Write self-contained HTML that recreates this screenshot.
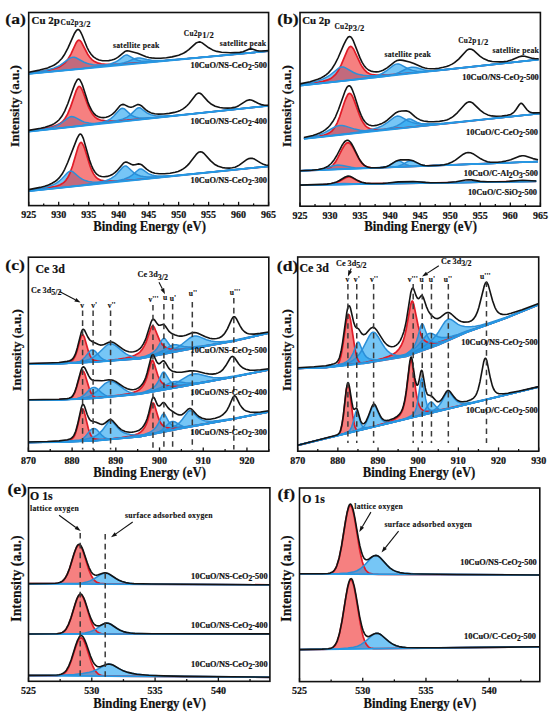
<!DOCTYPE html>
<html><head><meta charset="utf-8"><style>
html,body{margin:0;padding:0;background:#fff;width:550px;height:716px;overflow:hidden}
svg{display:block}
text{stroke:#111;stroke-width:0.2px}
</style></head><body>
<svg width="550" height="716" viewBox="0 0 550 716" font-family='"Liberation Serif", serif' font-weight="bold" fill="#111">
<polygon points="28.7,73.0 37.2,71.8 43.9,70.7 49.2,69.4 53.8,68.1 57.0,66.8 59.9,65.3 63.1,63.2 69.3,58.6 71.1,57.6 72.7,57.2 74.3,57.3 75.9,57.8 84.2,62.2 86.9,63.3 89.8,64.1 93.3,64.7 97.5,65.1 108.0,65.1 123.7,64.2 148.8,62.2 268.6,51.1 268.6,51.1 28.7,73.8" fill="#1aa0f0" fill-opacity="0.60"/>
<polygon points="28.7,73.2 41.8,71.4 50.8,69.6 57.3,67.7 59.7,66.7 61.8,65.4 65.0,62.8 67.9,59.2 70.9,54.1 76.2,42.7 77.5,40.8 78.3,40.3 78.9,40.1 79.9,40.5 81.3,42.0 87.7,54.2 89.8,57.3 91.9,59.6 94.6,61.6 97.5,62.9 101.3,63.8 105.8,64.3 111.7,64.4 119.4,64.2 142.4,62.6 183.7,59.0 268.6,51.1 268.6,51.1 28.7,73.8" fill="#f03232" fill-opacity="0.62"/>
<polygon points="28.7,73.8 82.9,68.4 95.9,66.8 104.5,65.4 110.4,64.0 114.9,62.3 118.4,60.3 124.0,55.9 125.0,55.4 126.1,55.1 127.2,55.1 128.5,55.6 134.4,59.0 138.4,60.4 141.0,60.9 144.0,61.2 151.5,61.3 162.7,60.7 180.8,59.2 268.6,51.1 268.6,51.1 28.7,73.8" fill="#1aa0f0" fill-opacity="0.60"/>
<polygon points="28.7,73.8 87.9,68.0 112.2,65.2 118.9,64.0 124.2,62.8 128.2,61.4 134.6,58.6 137.6,57.9 140.2,58.0 146.9,59.6 151.5,60.3 157.1,60.5 164.8,60.3 193.3,58.1 268.6,51.1 268.6,51.1 28.7,73.8" fill="#1aa0f0" fill-opacity="0.60"/>
<polyline points="28.7,73.2 41.8,71.4 50.8,69.6 57.3,67.7 59.7,66.7 61.8,65.4 65.0,62.8 67.9,59.2 70.9,54.1 76.2,42.7 77.5,40.8 78.3,40.3 78.9,40.1 79.9,40.5 81.3,42.0 87.7,54.2 89.8,57.3 91.9,59.6 94.6,61.6 97.5,62.9 101.3,63.8 105.8,64.3 111.7,64.4 119.4,64.2 142.4,62.6 183.7,59.0 268.6,51.1" fill="none" stroke="#e01c28" stroke-width="1.7"/>
<polyline points="28.7,73.0 37.2,71.8 43.9,70.7 49.2,69.4 53.8,68.1 57.0,66.8 59.9,65.3 63.1,63.2 69.3,58.6 71.1,57.6 72.7,57.2 74.3,57.3 75.9,57.8 84.2,62.2 86.9,63.3 89.8,64.1 93.3,64.7 97.5,65.1 108.0,65.1 123.7,64.2 148.8,62.2 268.6,51.1" fill="none" stroke="#2b8fd8" stroke-width="1.5"/>
<polyline points="28.7,73.8 82.9,68.4 95.9,66.8 104.5,65.4 110.4,64.0 114.9,62.3 118.4,60.3 124.0,55.9 125.0,55.4 126.1,55.1 127.2,55.1 128.5,55.6 134.4,59.0 138.4,60.4 141.0,60.9 144.0,61.2 151.5,61.3 162.7,60.7 180.8,59.2 268.6,51.1" fill="none" stroke="#2b8fd8" stroke-width="1.5"/>
<polyline points="28.7,73.8 87.9,68.0 112.2,65.2 118.9,64.0 124.2,62.8 128.2,61.4 134.6,58.6 137.6,57.9 140.2,58.0 146.9,59.6 151.5,60.3 157.1,60.5 164.8,60.3 193.3,58.1 268.6,51.1" fill="none" stroke="#2b8fd8" stroke-width="1.5"/>
<polyline points="28.7,73.8 268.6,51.1" fill="none" stroke="#2598e4" stroke-width="1.7"/>
<polyline points="28.7,72.2 39.6,70.1 47.6,67.9 50.8,66.6 53.8,65.2 56.2,63.7 58.6,61.8 61.8,58.5 64.7,54.2 67.9,48.2 74.6,33.2 76.2,30.7 77.0,29.9 77.8,29.5 78.6,29.6 79.1,29.9 79.9,30.8 80.7,32.1 82.1,35.0 87.1,47.5 89.0,51.1 91.1,54.3 93.5,56.9 96.2,58.7 99.1,60.0 102.6,60.7 105.6,60.8 108.8,60.6 111.7,60.0 114.4,59.2 116.5,58.1 118.4,56.9 124.5,51.8 125.8,51.1 127.2,50.8 129.0,51.0 137.6,53.2 146.1,56.7 148.8,57.5 151.5,57.9 155.7,58.3 160.8,58.2 166.4,57.8 172.0,56.9 178.7,55.2 181.6,54.1 184.3,52.7 186.7,51.2 188.8,49.6 195.7,43.3 197.4,42.4 199.0,41.9 200.6,42.1 202.2,42.9 208.8,47.8 212.6,49.9 216.8,51.4 221.6,52.3 230.2,52.7 239.8,52.4 243.0,51.8 248.3,49.4 250.5,48.9 252.3,49.1 256.6,50.5 259.0,51.0 262.2,51.0 268.6,50.6" fill="none" stroke="#141414" stroke-width="1.60" stroke-linejoin="round"/>
<polygon points="28.7,131.3 45.2,129.0 50.0,128.0 53.8,126.9 56.5,125.9 59.1,124.5 62.1,122.5 68.2,117.8 69.8,117.0 71.4,116.6 73.0,116.7 74.6,117.2 81.5,120.9 85.8,122.5 88.2,123.0 90.9,123.3 97.3,123.4 108.5,122.6 127.4,120.8 219.5,111.1 219.5,111.1 28.7,131.7" fill="#1aa0f0" fill-opacity="0.60"/>
<polygon points="28.7,130.9 42.3,128.8 51.6,126.9 54.9,125.9 57.5,124.8 59.9,123.5 61.8,122.1 63.4,120.5 65.0,118.5 67.7,113.9 70.6,106.9 76.2,90.6 77.8,87.5 78.6,86.7 79.1,86.4 79.7,86.5 80.5,87.0 81.8,89.1 83.1,92.2 86.9,102.6 88.7,107.3 90.6,111.2 92.7,114.6 95.1,117.2 97.5,118.9 100.5,120.0 104.5,120.7 109.8,121.0 117.3,120.8 127.2,120.2 140.2,119.1 181.6,115.0 268.6,105.7 268.6,105.8 28.7,131.7" fill="#f03232" fill-opacity="0.62"/>
<polygon points="28.7,131.6 82.3,125.5 94.6,123.8 102.4,122.2 107.2,120.7 110.9,118.6 114.1,115.8 119.7,109.6 121.0,108.6 122.1,108.3 123.2,108.4 124.5,109.0 130.4,114.3 132.2,115.6 134.1,116.5 136.2,117.2 138.6,117.7 141.6,118.0 145.0,118.0 156.0,117.4 174.1,115.7 268.6,105.8 268.6,105.8 28.7,131.7" fill="#1aa0f0" fill-opacity="0.60"/>
<polygon points="28.7,131.6 92.7,124.4 107.2,122.5 116.5,120.8 122.6,119.1 127.2,117.1 130.9,114.4 136.5,108.8 137.8,108.0 138.9,107.7 140.0,107.8 141.0,108.3 146.9,112.8 148.8,113.8 150.7,114.6 153.1,115.3 155.7,115.7 162.7,116.0 173.1,115.5 189.9,114.0 268.6,105.8 268.6,105.8 28.7,131.7" fill="#1aa0f0" fill-opacity="0.60"/>
<polyline points="28.7,130.9 42.3,128.8 51.6,126.9 54.9,125.9 57.5,124.8 59.9,123.5 61.8,122.1 63.4,120.5 65.0,118.5 67.7,113.9 70.6,106.9 76.2,90.6 77.8,87.5 78.6,86.7 79.1,86.4 79.7,86.5 80.5,87.0 81.8,89.1 83.1,92.2 86.9,102.6 88.7,107.3 90.6,111.2 92.7,114.6 95.1,117.2 97.5,118.9 100.5,120.0 104.5,120.7 109.8,121.0 117.3,120.8 127.2,120.2 140.2,119.1 181.6,115.0 268.6,105.7" fill="none" stroke="#e01c28" stroke-width="1.7"/>
<polyline points="28.7,131.3 45.2,129.0 50.0,128.0 53.8,126.9 56.5,125.9 59.1,124.5 62.1,122.5 68.2,117.8 69.8,117.0 71.4,116.6 73.0,116.7 74.6,117.2 81.8,121.0 83.9,121.9 86.3,122.6 89.0,123.1 91.9,123.4 99.4,123.3 113.3,122.2 137.3,119.8 268.6,105.8" fill="none" stroke="#2b8fd8" stroke-width="1.5"/>
<polyline points="28.7,131.6 82.3,125.5 94.6,123.8 102.4,122.2 107.2,120.7 110.9,118.6 114.1,115.8 119.7,109.6 121.0,108.6 122.1,108.3 123.2,108.4 124.5,109.0 130.4,114.3 132.2,115.6 134.1,116.5 136.2,117.2 138.6,117.7 141.6,118.0 145.0,118.0 156.0,117.4 174.1,115.7 268.6,105.8" fill="none" stroke="#2b8fd8" stroke-width="1.5"/>
<polyline points="28.7,131.6 92.7,124.4 107.2,122.5 116.5,120.8 122.6,119.1 127.2,117.1 130.9,114.4 136.5,108.8 137.8,108.0 138.9,107.7 140.0,107.8 141.0,108.3 146.9,112.8 148.8,113.8 150.7,114.6 153.1,115.3 155.7,115.7 162.7,116.0 173.1,115.5 189.9,114.0 268.6,105.8" fill="none" stroke="#2b8fd8" stroke-width="1.5"/>
<polyline points="28.7,131.7 268.6,105.8" fill="none" stroke="#2598e4" stroke-width="1.7"/>
<polyline points="28.7,130.4 40.7,128.2 45.0,127.2 48.7,126.1 51.6,125.0 54.3,123.6 56.7,121.9 58.9,120.0 61.8,116.3 64.7,111.1 67.9,103.5 73.3,88.3 75.1,83.6 77.0,80.1 77.8,79.3 78.6,79.1 79.1,79.2 79.9,79.9 81.5,82.8 82.9,86.4 87.9,102.1 89.8,106.7 91.7,110.4 93.8,113.4 95.9,115.4 98.3,116.8 101.0,117.5 103.4,117.6 106.1,117.3 108.5,116.5 110.6,115.4 112.5,114.1 114.4,112.4 120.2,105.6 121.6,104.7 122.6,104.4 124.2,104.6 128.5,106.7 130.6,107.2 131.7,107.1 133.0,106.7 137.3,104.6 138.4,104.5 139.4,104.7 141.3,105.7 145.6,109.6 148.2,111.5 151.2,112.9 154.7,113.8 158.7,114.1 163.7,114.0 169.3,113.4 174.4,112.4 177.6,111.4 180.3,110.4 182.7,109.1 185.1,107.4 187.2,105.5 189.1,103.5 195.7,94.9 197.4,93.5 198.7,93.1 200.0,93.3 201.6,94.3 208.0,101.4 211.5,104.3 215.2,106.3 219.8,107.5 223.5,108.0 227.8,108.1 231.5,107.9 234.4,107.4 236.6,106.7 238.7,105.7 246.2,100.8 247.8,100.2 249.4,99.9 251.0,100.0 252.6,100.5 258.5,103.5 261.4,104.6 264.6,105.2 268.6,105.2" fill="none" stroke="#141414" stroke-width="1.60" stroke-linejoin="round"/>
<polygon points="28.7,190.4 37.2,189.1 43.9,187.7 49.2,186.3 53.5,184.6 56.5,183.1 59.1,181.2 62.1,178.5 67.4,172.7 69.0,171.6 70.3,171.1 71.7,171.2 73.0,171.9 80.2,178.0 82.6,179.4 85.3,180.6 88.5,181.4 92.2,182.0 96.7,182.2 102.1,182.2 117.0,181.4 141.8,179.2 268.6,166.3 268.6,166.3 28.7,191.2" fill="#1aa0f0" fill-opacity="0.60"/>
<polygon points="28.7,190.7 44.2,188.6 54.3,186.7 57.5,185.8 60.2,184.8 62.3,183.6 64.2,182.2 65.8,180.5 67.1,178.6 68.5,176.3 69.8,173.4 72.5,166.0 78.1,147.0 79.7,143.5 80.5,142.7 81.0,142.5 81.5,142.6 82.3,143.4 83.7,146.0 85.0,149.7 90.1,166.1 91.9,170.7 93.5,173.9 95.7,176.9 97.8,178.8 100.5,180.1 104.0,180.9 108.8,181.2 115.7,181.1 125.0,180.5 137.8,179.5 178.9,175.5 268.6,166.3 268.6,166.3 28.7,191.2" fill="#f03232" fill-opacity="0.62"/>
<polygon points="28.7,191.1 61.5,187.5 81.3,185.2 94.1,183.3 102.6,181.5 105.8,180.6 108.8,179.5 111.2,178.3 113.3,177.0 115.2,175.6 117.0,173.8 122.6,167.4 124.0,166.4 125.0,166.0 126.1,166.1 127.4,166.8 133.6,172.5 135.7,174.0 137.8,175.0 140.5,175.9 143.4,176.5 146.9,176.9 151.2,177.0 162.7,176.5 181.1,175.1 268.6,166.3 268.6,166.3 28.7,191.2" fill="#1aa0f0" fill-opacity="0.60"/>
<polygon points="28.7,191.2 93.5,184.2 108.2,182.3 117.6,180.8 124.0,179.2 128.8,177.3 132.5,174.9 138.1,170.0 139.2,169.3 140.2,169.0 141.3,169.1 142.4,169.5 148.0,173.3 149.9,174.3 152.0,175.0 154.4,175.6 157.1,175.9 164.0,176.1 174.4,175.5 190.9,174.1 268.6,166.3 268.6,166.3 28.7,191.2" fill="#1aa0f0" fill-opacity="0.60"/>
<polyline points="28.7,190.7 44.2,188.6 54.3,186.7 57.5,185.8 60.2,184.8 62.3,183.6 64.2,182.2 65.8,180.5 67.1,178.6 68.5,176.3 69.8,173.4 72.5,166.0 78.1,147.0 79.7,143.5 80.5,142.7 81.0,142.5 81.5,142.6 82.3,143.4 83.7,146.0 85.0,149.7 90.1,166.1 91.9,170.7 93.5,173.9 95.7,176.9 97.8,178.8 100.5,180.1 104.0,180.9 108.8,181.2 115.7,181.1 125.0,180.5 137.8,179.5 178.9,175.5 268.6,166.3" fill="none" stroke="#e01c28" stroke-width="1.7"/>
<polyline points="28.7,190.4 37.2,189.1 43.9,187.7 49.2,186.3 53.5,184.6 56.5,183.1 59.1,181.2 62.1,178.5 67.4,172.7 69.0,171.6 70.3,171.1 71.7,171.2 73.0,171.9 80.2,178.0 82.6,179.4 85.3,180.6 88.5,181.4 92.2,182.0 96.7,182.2 102.1,182.2 117.0,181.4 141.8,179.2 268.6,166.3" fill="none" stroke="#2b8fd8" stroke-width="1.5"/>
<polyline points="28.7,191.1 61.5,187.5 81.3,185.2 94.1,183.3 102.6,181.5 105.8,180.6 108.8,179.5 111.2,178.3 113.3,177.0 115.2,175.6 117.0,173.8 122.6,167.4 124.0,166.4 125.0,166.0 126.1,166.1 127.4,166.8 133.6,172.5 135.7,174.0 137.8,175.0 140.5,175.9 143.4,176.5 146.9,176.9 151.2,177.0 162.7,176.5 181.1,175.1 268.6,166.3" fill="none" stroke="#2b8fd8" stroke-width="1.5"/>
<polyline points="28.7,191.2 93.5,184.2 108.2,182.3 117.6,180.8 124.0,179.2 128.8,177.3 132.5,174.9 138.1,170.0 139.2,169.3 140.2,169.0 141.3,169.1 142.4,169.5 148.0,173.3 149.9,174.3 152.0,175.0 154.4,175.6 157.1,175.9 164.0,176.1 174.4,175.5 190.9,174.1 268.6,166.3" fill="none" stroke="#2b8fd8" stroke-width="1.5"/>
<polyline points="28.7,191.2 268.6,166.3" fill="none" stroke="#2598e4" stroke-width="1.7"/>
<polyline points="28.7,189.6 40.2,187.4 44.7,186.2 48.4,184.9 51.6,183.5 54.6,181.8 57.0,180.0 59.1,177.9 62.1,174.1 64.7,169.3 67.7,162.5 77.0,138.6 78.9,135.1 79.7,134.3 80.2,134.1 81.0,134.3 81.8,135.2 83.4,138.6 89.5,160.0 91.4,165.3 93.0,168.9 94.9,172.0 96.7,174.2 98.9,175.7 101.6,176.5 104.2,176.7 107.2,176.4 110.1,175.5 112.8,174.2 114.9,172.7 116.8,170.9 123.2,163.4 124.5,162.4 125.8,162.0 127.4,162.4 131.2,164.3 133.0,164.9 134.9,164.8 138.6,163.9 140.5,164.2 142.4,165.3 146.6,169.2 149.1,170.9 151.7,172.3 154.9,173.2 159.2,173.7 164.5,173.8 170.1,173.3 175.2,172.3 178.1,171.4 180.8,170.3 183.2,168.9 185.3,167.4 187.5,165.4 189.6,163.1 196.8,153.8 198.7,152.2 200.3,151.7 201.9,152.0 203.8,153.2 210.7,160.9 214.4,164.2 218.2,166.3 222.4,167.6 225.6,168.0 229.1,168.1 232.3,167.8 235.0,167.2 237.1,166.3 239.2,165.1 247.0,159.4 248.9,158.6 250.7,158.2 252.6,158.4 254.5,159.1 260.6,162.9 263.3,164.2 265.9,165.0 268.6,165.3" fill="none" stroke="#141414" stroke-width="1.60" stroke-linejoin="round"/>
<polygon points="300.0,84.6 307.4,83.3 313.5,82.0 318.6,80.6 322.8,79.0 326.3,77.4 329.5,75.5 338.7,68.1 340.3,67.3 341.9,66.9 343.5,67.0 345.1,67.6 353.6,72.5 356.5,73.7 359.5,74.6 363.2,75.3 367.1,75.7 372.2,75.8 378.0,75.7 394.0,74.7 419.2,72.3 538.6,59.5 538.6,59.6 300.0,85.7" fill="#1aa0f0" fill-opacity="0.60"/>
<polygon points="300.0,85.1 313.8,83.1 322.8,81.3 328.4,79.6 330.8,78.4 332.6,77.2 335.6,74.4 338.5,70.2 341.4,64.4 347.5,49.9 349.1,47.4 349.9,46.8 350.7,46.5 351.2,46.6 352.0,47.1 353.6,49.2 360.5,63.9 362.4,67.1 364.5,70.0 366.9,72.2 369.5,73.8 372.5,74.7 376.2,75.1 381.5,75.2 388.9,74.9 411.7,73.0 452.9,68.8 538.6,59.5 538.6,59.6 300.0,85.7" fill="#f03232" fill-opacity="0.62"/>
<polygon points="300.0,85.6 354.4,79.4 366.9,77.8 373.8,76.5 378.3,75.3 382.3,73.5 386.3,71.0 393.4,65.4 395.3,64.4 397.1,63.9 398.7,64.0 400.6,64.6 408.0,68.7 412.0,70.4 416.5,71.3 422.4,71.4 431.9,70.8 450.0,69.1 536.7,59.7 536.7,59.8 300.0,85.7" fill="#1aa0f0" fill-opacity="0.60"/>
<polygon points="382.5,76.6 389.4,75.6 394.5,74.3 398.7,72.6 407.0,68.5 409.3,67.6 411.5,67.2 413.6,67.2 416.0,67.5 424.2,69.9 428.5,70.6 433.5,70.8 440.4,70.3 440.4,70.3 382.5,76.7" fill="#1aa0f0" fill-opacity="0.60"/>
<polyline points="300.0,85.1 313.8,83.1 322.8,81.3 328.4,79.6 330.8,78.4 332.6,77.2 335.6,74.4 338.5,70.2 341.4,64.4 347.5,49.9 349.1,47.4 349.9,46.8 350.7,46.5 351.2,46.6 352.0,47.1 353.6,49.2 360.5,63.9 362.4,67.1 364.5,70.0 366.9,72.2 369.5,73.8 372.5,74.7 376.2,75.1 381.5,75.2 388.9,74.9 411.7,73.0 452.9,68.8 538.6,59.5" fill="none" stroke="#e01c28" stroke-width="1.7"/>
<polyline points="300.0,84.6 307.4,83.3 313.5,82.0 318.6,80.6 322.8,79.0 326.3,77.4 329.5,75.5 338.7,68.1 340.3,67.3 341.9,66.9 343.5,67.0 345.1,67.6 353.6,72.5 356.5,73.7 359.5,74.6 363.2,75.3 367.1,75.7 372.2,75.8 378.0,75.7 394.0,74.7 419.2,72.3 538.6,59.5" fill="none" stroke="#2b8fd8" stroke-width="1.5"/>
<polyline points="300.0,85.6 354.4,79.4 366.9,77.8 373.8,76.5 378.3,75.3 382.3,73.5 386.3,71.0 393.4,65.4 395.3,64.4 397.1,63.9 398.7,64.0 400.6,64.6 408.0,68.7 412.3,70.4 416.8,71.3 422.6,71.4 432.4,70.8 450.7,69.0 538.6,59.5" fill="none" stroke="#2b8fd8" stroke-width="1.5"/>
<polyline points="300.0,85.7 377.8,77.2 387.8,75.9 392.1,75.0 395.5,74.0 399.0,72.5 407.0,68.5 409.3,67.6 411.5,67.2 413.6,67.2 416.0,67.5 423.9,69.8 427.4,70.5 431.1,70.8 435.6,70.7 446.0,69.7 538.6,59.6" fill="none" stroke="#2b8fd8" stroke-width="1.5"/>
<polyline points="300.0,85.7 538.6,59.6" fill="none" stroke="#2598e4" stroke-width="1.7"/>
<polyline points="300.0,83.9 310.1,81.7 317.8,79.3 321.0,77.9 323.6,76.5 326.0,74.9 328.4,72.9 331.8,69.0 335.0,63.9 338.0,58.0 343.8,44.6 346.2,39.9 348.0,37.3 348.8,36.8 349.6,36.5 350.4,36.7 351.2,37.3 352.0,38.4 353.1,40.3 360.0,57.9 362.1,62.4 364.0,65.4 366.1,68.0 368.5,70.0 370.9,71.1 373.8,71.8 376.2,71.9 378.6,71.7 380.9,71.1 383.1,70.3 387.1,67.9 395.0,61.6 397.1,60.5 399.3,60.1 400.9,60.1 403.0,60.4 409.6,62.0 413.9,63.5 422.4,67.2 425.0,68.0 427.4,68.5 430.6,68.8 434.3,68.7 438.8,68.2 443.3,67.3 446.5,66.5 449.4,65.4 452.1,64.1 454.5,62.6 458.7,59.1 466.4,50.7 468.3,49.4 469.9,49.0 471.5,49.2 473.3,50.2 480.2,56.3 483.9,58.8 487.9,60.6 492.2,61.5 495.6,61.8 499.6,61.9 503.8,61.6 507.3,61.2 512.1,59.8 519.2,56.7 521.9,56.1 524.8,56.3 532.8,58.4 535.4,58.7 538.6,58.7" fill="none" stroke="#141414" stroke-width="1.60" stroke-linejoin="round"/>
<polygon points="303.9,138.3 312.6,136.7 319.2,134.9 325.0,132.4 335.2,126.8 337.6,126.0 339.9,125.5 342.3,125.5 344.7,125.9 354.7,129.1 359.9,130.3 365.7,130.9 372.6,130.8 383.6,129.9 404.9,127.9 504.9,117.3 504.9,117.3 303.9,138.9" fill="#1aa0f0" fill-opacity="0.60"/>
<polygon points="303.9,138.4 316.8,136.5 324.2,135.0 326.5,134.2 328.6,133.3 330.5,132.1 332.1,130.8 334.7,127.5 337.1,123.1 339.7,116.6 344.4,102.3 346.0,98.1 347.8,94.6 348.6,93.8 349.4,93.4 350.2,93.6 351.0,94.2 351.8,95.3 352.8,97.2 354.4,101.1 359.7,115.7 361.5,119.9 363.4,123.1 365.5,125.8 367.6,127.6 370.2,128.8 373.4,129.5 377.6,129.6 384.1,129.4 406.8,127.5 448.6,123.3 540.4,113.5 540.4,113.5 303.9,138.9" fill="#f03232" fill-opacity="0.62"/>
<polygon points="303.9,138.7 331.5,135.5 349.7,133.3 362.3,131.4 371.3,129.6 377.6,127.7 382.6,125.6 386.8,123.0 394.1,117.4 395.7,116.6 397.3,116.1 398.9,116.2 400.5,116.6 408.3,121.0 410.7,121.9 413.3,122.7 416.5,123.4 419.9,123.8 428.3,124.0 440.7,123.4 459.6,121.8 540.4,113.4 540.4,113.5 303.9,138.9" fill="#1aa0f0" fill-opacity="0.60"/>
<polygon points="303.9,138.8 362.8,132.3 376.5,130.5 385.7,129.0 392.0,127.6 396.8,125.9 400.5,123.9 406.2,119.8 407.6,119.1 408.6,118.9 409.7,118.9 411.0,119.3 416.8,122.2 420.7,123.5 426.2,124.1 433.6,124.1 444.4,123.4 461.5,121.8 540.4,113.5 540.4,113.5 303.9,138.9" fill="#1aa0f0" fill-opacity="0.60"/>
<polyline points="303.9,138.4 316.8,136.5 324.2,135.0 326.5,134.2 328.6,133.3 330.5,132.1 332.1,130.8 334.7,127.5 337.1,123.1 339.7,116.6 344.4,102.3 346.0,98.1 347.8,94.6 348.6,93.8 349.4,93.4 350.2,93.6 351.0,94.2 351.8,95.3 352.8,97.2 354.4,101.1 359.7,115.7 361.5,119.9 363.4,123.1 365.5,125.8 367.6,127.6 370.2,128.8 373.4,129.5 377.6,129.6 384.1,129.4 406.8,127.5 448.6,123.3 540.4,113.5" fill="none" stroke="#e01c28" stroke-width="1.7"/>
<polyline points="303.9,138.3 312.6,136.7 319.2,134.9 325.0,132.4 335.2,126.8 337.6,126.0 339.9,125.5 342.3,125.5 344.7,125.9 354.7,129.1 360.2,130.3 366.3,130.9 374.1,130.7 387.6,129.6 413.1,127.0 540.4,113.5" fill="none" stroke="#2b8fd8" stroke-width="1.5"/>
<polyline points="303.9,138.7 331.5,135.5 349.7,133.3 362.3,131.4 371.3,129.6 377.6,127.7 382.6,125.6 386.8,123.0 394.1,117.4 395.7,116.6 397.3,116.1 398.9,116.2 400.5,116.6 408.3,121.0 410.7,121.9 413.3,122.7 416.5,123.4 419.9,123.8 428.3,124.0 440.7,123.4 459.6,121.8 540.4,113.4" fill="none" stroke="#2b8fd8" stroke-width="1.5"/>
<polyline points="303.9,138.8 362.8,132.3 376.5,130.5 385.7,129.0 392.0,127.6 396.8,125.9 400.5,123.9 406.2,119.8 407.6,119.1 408.6,118.9 409.7,118.9 411.0,119.3 416.8,122.2 420.7,123.5 426.2,124.1 433.6,124.1 444.4,123.4 461.5,121.8 540.4,113.5" fill="none" stroke="#2b8fd8" stroke-width="1.5"/>
<polyline points="303.9,138.9 540.4,113.5" fill="none" stroke="#2598e4" stroke-width="1.7"/>
<polyline points="303.9,137.5 312.9,135.5 316.5,134.3 319.7,133.0 322.8,131.4 325.5,129.6 327.8,127.7 329.9,125.5 332.8,121.6 335.5,116.8 338.6,109.3 345.2,90.8 347.0,87.2 348.1,86.1 348.9,85.7 349.7,85.9 350.5,86.5 351.3,87.7 352.3,89.8 354.2,94.7 359.4,110.9 361.3,115.5 362.8,118.7 364.7,121.5 366.8,123.7 368.9,124.9 371.3,125.6 373.6,125.7 376.2,125.4 379.1,124.6 382.0,123.4 384.7,122.0 387.0,120.4 393.9,114.3 396.0,112.7 398.6,111.5 401.8,111.0 406.2,110.9 408.6,111.5 410.4,112.7 414.9,116.7 417.3,118.4 420.2,119.9 423.6,121.0 428.1,121.6 433.6,121.8 439.4,121.4 444.4,120.5 446.7,119.9 449.1,118.9 451.2,117.8 453.3,116.4 457.3,112.8 465.2,104.0 467.3,102.4 469.1,101.8 471.0,102.1 473.1,103.3 480.4,110.3 484.1,113.1 487.8,114.9 491.7,115.9 496.2,116.2 501.7,116.0 507.3,115.3 510.7,114.4 512.5,113.3 514.1,112.0 515.9,109.7 519.4,104.5 520.4,103.6 521.2,103.3 522.0,103.6 522.8,104.3 527.2,110.0 528.6,111.2 529.9,112.0 531.5,112.5 533.6,112.9 540.4,112.7" fill="none" stroke="#141414" stroke-width="1.60" stroke-linejoin="round"/>
<polygon points="307.7,170.5 314.6,170.0 319.6,169.3 324.1,168.4 333.1,165.8 337.9,165.1 342.6,165.4 351.6,167.3 356.1,167.9 361.2,168.2 368.0,168.1 368.0,168.2 307.7,170.5" fill="#1aa0f0" fill-opacity="0.60"/>
<polygon points="319.1,170.0 323.8,169.6 327.3,168.9 329.9,167.7 332.3,165.9 334.2,163.8 336.3,160.6 342.1,149.2 343.9,146.0 345.0,144.6 346.1,143.5 347.1,142.9 347.9,142.8 348.7,142.9 349.8,143.4 351.6,145.4 353.5,148.4 359.6,159.8 361.4,162.5 363.5,164.7 365.9,166.4 368.6,167.3 372.0,167.8 376.8,167.8 376.8,167.8 319.1,170.1" fill="#f03232" fill-opacity="0.62"/>
<polygon points="379.2,167.7 383.7,167.3 386.8,166.5 389.7,165.2 395.0,161.9 396.6,161.3 398.0,161.0 399.3,161.1 400.9,161.6 406.4,164.6 409.3,165.7 412.5,166.2 417.0,166.3 417.0,166.3 379.2,167.7" fill="#1aa0f0" fill-opacity="0.60"/>
<polygon points="390.8,167.3 395.6,166.8 399.0,166.0 401.9,164.8 407.5,161.6 409.1,161.0 410.7,160.8 412.2,160.9 413.8,161.3 419.7,164.2 422.6,165.2 426.0,165.7 430.5,165.7 430.5,165.8 390.8,167.3" fill="#1aa0f0" fill-opacity="0.60"/>
<polyline points="300.0,170.8 322.8,169.8 326.7,169.1 329.9,167.7 331.5,166.6 332.8,165.3 335.5,161.9 337.9,157.7 342.4,148.7 344.5,145.2 346.3,143.3 347.1,142.9 347.9,142.8 348.7,142.9 349.8,143.4 350.8,144.4 351.9,145.8 353.7,148.9 359.0,159.0 360.6,161.4 362.2,163.4 364.1,165.2 365.9,166.4 368.0,167.2 370.7,167.7 374.4,167.8 380.7,167.7 538.0,161.6" fill="none" stroke="#e01c28" stroke-width="1.7"/>
<polyline points="300.0,170.8 311.6,170.2 318.3,169.6 323.6,168.5 333.4,165.7 337.9,165.1 342.6,165.4 351.4,167.2 355.3,167.9 359.8,168.2 365.4,168.2 538.0,161.6" fill="none" stroke="#2b8fd8" stroke-width="1.5"/>
<polyline points="300.0,170.8 381.8,167.5 385.0,167.0 387.6,166.2 390.0,165.0 395.0,161.9 396.6,161.3 398.0,161.0 399.3,161.1 400.9,161.6 406.4,164.6 408.8,165.5 411.7,166.1 415.2,166.3 538.0,161.6" fill="none" stroke="#2b8fd8" stroke-width="1.5"/>
<polyline points="300.0,170.8 393.5,167.1 396.9,166.6 399.5,165.8 402.2,164.6 407.5,161.6 409.1,161.0 410.7,160.8 412.2,160.9 413.8,161.3 419.4,164.1 422.0,165.0 425.0,165.6 428.4,165.8 538.0,161.6" fill="none" stroke="#2b8fd8" stroke-width="1.5"/>
<polyline points="300.0,170.8 538.0,161.6" fill="none" stroke="#2598e4" stroke-width="1.7"/>
<polyline points="300.0,170.8 311.9,170.2 318.5,169.5 323.8,168.2 325.9,167.3 328.1,166.1 331.2,163.5 334.4,159.4 336.8,155.5 341.8,145.8 343.7,142.9 345.5,140.9 347.1,140.2 348.2,140.4 349.2,141.0 350.3,142.0 351.4,143.5 353.2,146.7 358.8,158.1 360.6,161.1 362.2,163.2 364.1,165.1 366.2,166.4 368.3,167.2 370.9,167.7 374.4,167.8 379.4,167.7 382.9,167.4 385.5,166.9 387.4,166.3 389.2,165.4 396.4,160.9 398.5,160.2 400.6,159.9 408.8,159.9 411.2,160.2 413.8,161.1 420.5,164.4 422.6,165.1 425.0,165.5 428.4,165.7 433.4,165.5 439.8,165.2 444.0,164.7 448.0,163.8 451.7,162.3 455.4,160.1 463.3,154.2 465.7,153.0 468.1,152.5 470.5,152.8 472.9,153.7 480.8,158.8 484.3,160.6 487.4,161.7 490.6,162.2 493.8,162.3 497.5,162.2 501.7,161.8 505.7,161.1 510.7,159.8 518.9,156.4 522.1,155.7 523.7,155.7 525.3,156.0 533.0,158.6 538.0,159.7" fill="none" stroke="#141414" stroke-width="1.60" stroke-linejoin="round"/>
<polygon points="311.8,185.0 326.5,184.6 343.6,183.6 360.4,184.0 375.4,183.9 375.4,183.9 311.8,185.0" fill="#1aa0f0" fill-opacity="0.60"/>
<polygon points="300.0,185.1 323.1,184.5 328.4,184.2 332.1,183.7 334.7,183.1 337.3,182.3 339.9,181.0 345.7,177.7 347.3,177.1 348.6,176.9 350.2,177.1 351.8,177.6 357.5,180.8 360.7,182.1 364.1,183.0 368.0,183.4 374.1,183.6 385.1,183.6 436.1,182.9 436.1,183.0 300.0,185.2" fill="#f03232" fill-opacity="0.62"/>
<polygon points="367.3,184.1 383.3,183.6 398.8,182.2 414.3,183.1 430.3,183.0 430.3,183.0 367.3,184.1" fill="#1aa0f0" fill-opacity="0.60"/>
<polygon points="385.1,183.8 400.1,183.3 415.1,181.9 430.1,182.8 445.0,182.8 445.0,182.8 385.1,183.8" fill="#1aa0f0" fill-opacity="0.60"/>
<polyline points="300.0,185.1 323.1,184.5 328.4,184.2 332.1,183.7 334.7,183.1 337.3,182.3 339.9,181.0 345.7,177.7 347.3,177.1 348.6,176.9 349.9,177.0 351.5,177.5 358.1,181.0 361.7,182.4 365.9,183.3 371.7,183.6 405.4,183.4 536.2,181.3" fill="none" stroke="#e01c28" stroke-width="1.7"/>
<polyline points="300.0,185.2 324.7,184.6 343.6,183.6 359.4,184.0 370.1,184.0 536.2,181.3" fill="none" stroke="#2b8fd8" stroke-width="1.5"/>
<polyline points="300.0,185.2 378.0,183.8 385.4,183.4 395.4,182.4 398.8,182.2 402.2,182.3 412.2,183.0 420.9,183.1 536.2,181.3" fill="none" stroke="#2b8fd8" stroke-width="1.5"/>
<polyline points="300.0,185.2 394.1,183.6 401.9,183.2 411.7,182.1 415.1,181.9 418.5,182.0 428.2,182.7 436.1,182.9 536.2,181.3" fill="none" stroke="#2b8fd8" stroke-width="1.5"/>
<polyline points="300.0,185.2 536.2,181.3" fill="none" stroke="#2598e4" stroke-width="1.7"/>
<polyline points="300.0,185.1 321.5,184.4 327.1,184.1 331.0,183.5 333.9,182.8 336.5,181.9 339.4,180.5 345.2,177.0 346.8,176.4 348.3,176.1 349.9,176.3 351.5,176.9 357.8,180.6 361.5,182.2 365.7,183.1 371.5,183.5 382.8,183.4 387.8,183.0 398.3,181.9 413.2,181.6 417.2,181.7 425.6,182.4 430.6,182.7 447.7,182.5 456.1,181.8 465.5,180.0 468.4,179.7 471.3,179.9 480.2,181.4 487.3,181.8 506.2,181.5 522.5,180.3 536.2,181.0" fill="none" stroke="#141414" stroke-width="1.60" stroke-linejoin="round"/>
<polygon points="28.4,363.9 58.9,363.3 67.2,362.5 69.3,362.0 70.9,361.4 72.3,360.5 73.3,359.4 75.2,356.1 77.1,350.9 80.8,337.4 81.9,335.2 82.7,334.7 83.5,335.4 84.6,337.9 88.0,350.2 90.2,355.9 91.2,357.8 92.6,359.3 93.9,360.2 95.5,360.7 99.5,361.0 107.0,360.8 139.9,358.6 169.6,352.9 169.6,352.9 139.9,358.7 94.0,362.2 59.0,363.7 28.4,363.9" fill="#f03232" fill-opacity="0.62"/>
<polygon points="55.7,363.7 73.1,363.0 76.5,362.6 78.9,361.9 80.8,361.0 82.7,359.6 84.6,357.6 89.4,351.5 91.0,350.2 92.3,349.9 93.6,350.2 95.3,351.3 99.8,356.5 101.9,358.5 103.5,359.6 105.4,360.3 107.8,360.7 111.0,360.7 128.7,359.5 128.7,359.5 94.0,362.2 55.7,363.7" fill="#1aa0f0" fill-opacity="0.60"/>
<polygon points="28.4,363.8 59.2,363.3 76.3,362.1 81.1,361.5 85.1,360.7 89.6,359.2 93.9,356.9 97.9,353.7 105.9,346.0 108.1,344.5 110.2,343.8 112.4,344.0 114.8,345.2 116.9,346.7 123.6,352.2 126.0,353.8 128.4,355.1 130.8,356.0 133.5,356.7 136.4,357.2 139.9,357.4 146.6,356.6 157.6,354.8 233.8,341.1 268.8,333.1 268.8,333.1 233.8,341.1 181.4,350.7 139.9,358.7 94.0,362.2 59.0,363.7 28.4,363.9" fill="#1aa0f0" fill-opacity="0.60"/>
<polygon points="28.4,363.9 58.9,363.6 93.9,361.8 107.8,360.5 118.0,359.3 125.5,358.1 131.1,356.7 134.8,355.3 138.0,353.6 139.9,352.1 142.3,349.2 144.2,346.2 146.1,342.1 150.9,328.3 151.9,326.4 152.7,325.9 153.5,326.3 154.3,327.5 159.2,339.4 160.8,342.4 162.4,344.6 164.5,346.6 166.9,348.0 169.9,348.9 173.3,349.4 179.2,349.3 188.0,348.4 199.3,346.8 215.9,344.1 233.8,340.9 268.8,333.0 268.8,333.1 233.8,341.1 181.4,350.7 139.9,358.7 94.0,362.2 59.0,363.7 28.4,363.9" fill="#f03232" fill-opacity="0.62"/>
<polygon points="28.4,363.9 58.9,363.7 93.9,362.1 121.5,359.8 136.7,358.2 139.9,357.7 146.1,355.9 150.1,354.2 153.0,352.4 154.9,350.8 156.8,348.7 158.6,345.9 161.8,340.1 162.9,338.8 163.7,338.4 164.5,338.5 165.3,339.1 169.6,345.0 171.2,346.5 172.8,347.6 174.7,348.4 177.1,348.9 179.8,349.1 183.0,349.0 189.4,348.4 198.5,347.1 233.8,341.0 268.8,333.1 268.8,333.1 233.8,341.1 181.4,350.7 139.9,358.7 94.0,362.2 59.0,363.7 28.4,363.9" fill="#1aa0f0" fill-opacity="0.60"/>
<polygon points="28.4,363.9 58.9,363.7 93.9,362.1 122.5,359.7 139.6,358.1 150.1,355.5 157.8,353.0 163.2,350.5 170.9,345.8 173.6,344.8 174.9,344.7 176.5,344.8 183.8,346.4 188.3,346.9 194.2,346.8 201.7,346.1 214.2,344.2 233.8,340.9 268.8,333.0 268.8,333.1 233.8,341.1 181.4,350.7 139.9,358.7 94.0,362.2 59.0,363.7 28.4,363.9" fill="#1aa0f0" fill-opacity="0.60"/>
<polygon points="28.4,363.9 58.9,363.6 93.9,362.1 139.9,358.2 160.5,353.6 166.7,351.9 171.5,350.1 174.9,348.5 178.1,346.8 182.2,344.0 189.9,338.0 192.1,336.8 194.2,336.1 196.3,336.0 198.5,336.4 206.5,339.7 211.0,341.0 215.6,341.7 220.9,341.7 226.5,341.3 234.0,340.3 268.8,332.9 268.8,333.1 233.8,341.1 181.4,350.7 139.9,358.7 94.0,362.2 59.0,363.7 28.4,363.9" fill="#1aa0f0" fill-opacity="0.60"/>
<polyline points="28.4,363.9 58.9,363.3 67.2,362.5 69.3,362.0 70.9,361.4 72.3,360.5 73.3,359.4 75.2,356.1 77.1,350.9 80.5,338.2 81.6,335.6 82.4,334.7 82.7,334.7 83.2,335.0 84.3,337.1 88.6,351.9 89.9,355.4 91.2,357.8 92.8,359.5 94.4,360.4 96.9,360.9 100.9,361.0 113.7,360.5 139.9,358.6 181.4,350.6 233.8,341.1 268.8,333.1" fill="none" stroke="#e01c28" stroke-width="1.7"/>
<polyline points="28.4,363.9 58.9,363.6 93.9,361.8 107.8,360.5 118.0,359.3 125.5,358.1 131.1,356.7 134.8,355.3 138.0,353.6 139.9,352.1 142.3,349.2 144.2,346.2 146.1,342.1 150.9,328.3 151.9,326.4 152.7,325.9 153.5,326.3 154.3,327.5 159.2,339.4 160.8,342.4 162.4,344.6 164.5,346.6 166.9,348.0 169.9,348.9 173.3,349.4 179.2,349.3 188.0,348.4 199.3,346.8 215.9,344.1 233.8,340.9 268.8,333.0" fill="none" stroke="#e01c28" stroke-width="1.7"/>
<polyline points="28.4,363.9 59.2,363.7 72.3,363.0 77.1,362.4 79.7,361.6 82.1,360.0 84.6,357.6 89.4,351.5 91.0,350.2 92.3,349.9 93.6,350.2 95.3,351.3 99.8,356.5 101.9,358.5 104.1,359.8 106.2,360.5 108.6,360.7 112.4,360.7 139.9,358.7 181.4,350.7 233.8,341.1 268.8,333.1" fill="none" stroke="#2b8fd8" stroke-width="1.5"/>
<polyline points="28.4,363.8 59.2,363.3 76.3,362.1 81.1,361.5 85.1,360.7 89.6,359.2 93.9,356.9 97.9,353.7 105.9,346.0 108.1,344.5 110.2,343.8 112.4,344.0 114.8,345.2 116.9,346.7 123.6,352.2 126.0,353.8 128.4,355.1 130.8,356.0 133.5,356.7 136.4,357.2 139.9,357.4 146.6,356.6 157.6,354.8 233.8,341.1 268.8,333.1" fill="none" stroke="#2b8fd8" stroke-width="1.5"/>
<polyline points="28.4,363.9 58.9,363.7 93.9,362.1 121.5,359.8 136.7,358.2 139.9,357.7 146.1,355.9 150.1,354.2 153.0,352.4 154.9,350.8 156.8,348.7 158.6,345.9 161.8,340.1 162.9,338.8 163.7,338.4 164.5,338.5 165.3,339.1 169.6,345.0 171.2,346.5 172.8,347.6 174.7,348.4 177.1,348.9 179.8,349.1 183.0,349.0 189.4,348.4 198.5,347.1 233.8,341.0 268.8,333.1" fill="none" stroke="#2b8fd8" stroke-width="1.5"/>
<polyline points="28.4,363.9 58.9,363.7 93.9,362.1 122.5,359.7 139.6,358.1 150.1,355.5 157.8,353.0 163.2,350.5 170.9,345.8 173.6,344.8 174.9,344.7 176.5,344.8 183.8,346.4 188.3,346.9 194.2,346.8 201.7,346.1 214.2,344.2 233.8,340.9 268.8,333.0" fill="none" stroke="#2b8fd8" stroke-width="1.5"/>
<polyline points="28.4,363.9 58.9,363.6 93.9,362.1 139.9,358.2 160.5,353.6 166.7,351.9 171.5,350.1 174.9,348.5 178.1,346.8 182.2,344.0 189.9,338.0 192.1,336.8 194.2,336.1 196.3,336.0 198.5,336.4 206.5,339.7 211.0,341.0 215.6,341.7 220.9,341.7 226.5,341.3 234.0,340.3 268.8,332.9" fill="none" stroke="#2b8fd8" stroke-width="1.5"/>
<polyline points="28.4,363.9 59.0,363.7 94.0,362.2 139.9,358.7 181.4,350.7 233.8,341.1 268.8,333.1" fill="none" stroke="#2598e4" stroke-width="1.7"/>
<polyline points="28.4,363.5 46.9,363.0 58.9,362.5 67.2,361.4 69.6,360.8 71.2,360.0 72.5,358.9 73.6,357.6 75.5,353.9 77.3,347.9 81.1,332.9 82.1,330.2 82.7,329.5 83.2,329.3 83.8,329.5 84.6,330.4 87.8,337.0 89.6,339.8 91.5,341.2 98.5,344.5 100.3,345.1 102.2,345.0 104.1,344.5 108.9,342.3 110.5,342.0 111.8,342.0 113.4,342.5 115.0,343.4 122.5,348.9 124.7,350.2 126.5,351.0 128.9,351.8 131.1,352.0 133.5,351.8 135.6,351.3 137.8,350.2 139.9,348.7 141.8,346.4 143.4,343.9 145.0,340.7 146.3,337.3 151.1,322.0 152.2,319.9 152.7,319.4 153.3,319.2 153.8,319.3 154.6,320.0 157.3,323.9 158.6,325.1 160.0,325.3 162.9,324.4 163.7,324.5 164.2,324.8 165.3,326.0 168.8,331.1 169.9,332.2 171.2,333.2 172.8,334.0 175.2,335.0 177.6,335.7 179.8,336.1 181.9,336.1 183.8,335.8 185.9,335.2 191.5,333.0 193.1,332.6 194.7,332.6 196.3,332.8 197.9,333.3 205.4,336.8 209.7,338.2 212.1,338.6 214.5,338.7 216.7,338.5 218.8,338.0 220.4,337.2 222.0,336.2 223.6,334.7 224.9,333.0 227.4,328.9 231.9,318.9 233.0,317.3 234.0,316.7 234.6,316.8 235.1,317.1 236.2,318.4 240.2,326.1 242.3,329.5 244.5,331.8 246.9,333.2 248.5,333.7 250.1,334.0 254.1,334.1 260.2,333.4 268.8,332.0" fill="none" stroke="#141414" stroke-width="1.60" stroke-linejoin="round"/>
<polygon points="37.0,399.9 58.9,399.7 62.9,399.5 68.2,399.0 69.6,398.6 70.9,398.0 72.8,396.3 74.7,393.0 76.5,387.8 80.5,374.1 81.6,371.9 82.1,371.3 82.7,371.1 83.2,371.2 83.8,371.8 84.8,373.9 88.8,387.2 90.7,392.3 92.3,395.1 93.1,396.1 94.2,396.9 96.3,397.6 99.8,397.6 128.4,395.1 128.4,395.2 94.0,398.4 59.0,399.8 37.0,399.9" fill="#f03232" fill-opacity="0.62"/>
<polygon points="71.5,399.2 77.1,398.6 79.2,398.0 81.1,397.2 84.3,394.8 90.2,388.9 91.8,387.9 93.4,387.4 95.0,387.6 96.6,388.4 98.2,389.6 103.0,393.8 104.6,394.9 106.2,395.7 108.1,396.2 110.0,396.5 115.6,396.3 115.6,396.4 94.0,398.4 71.5,399.3" fill="#1aa0f0" fill-opacity="0.60"/>
<polygon points="28.4,399.9 59.2,399.7 76.8,398.8 81.3,398.3 84.8,397.7 89.1,396.4 92.8,394.4 96.3,391.7 102.7,385.6 105.1,383.5 107.8,381.9 110.2,381.3 112.6,381.5 115.3,382.7 117.7,384.3 124.1,389.2 128.4,391.7 130.5,392.5 133.0,393.1 138.3,393.6 142.3,393.3 151.9,391.8 181.4,386.7 203.6,382.6 203.6,382.6 181.4,386.7 139.9,394.1 94.0,398.4 59.0,399.8 28.4,399.9" fill="#1aa0f0" fill-opacity="0.60"/>
<polygon points="28.4,399.9 58.9,399.7 93.9,398.1 109.7,396.4 120.4,395.1 127.9,393.8 133.5,392.4 137.0,391.1 139.6,389.5 141.8,387.5 143.7,384.8 145.3,381.7 146.9,377.4 150.9,363.0 151.7,361.1 152.5,360.5 153.0,360.9 153.8,362.4 157.8,375.3 159.2,378.6 160.8,381.3 162.4,383.2 164.5,384.8 166.9,385.7 170.1,386.2 174.4,386.3 180.3,385.9 195.8,383.6 233.8,376.8 268.8,369.8 268.8,369.9 233.8,376.9 181.4,386.7 139.9,394.1 94.0,398.4 59.0,399.8 28.4,399.9" fill="#f03232" fill-opacity="0.62"/>
<polygon points="28.4,399.9 58.9,399.7 93.9,398.3 124.7,395.1 139.9,393.1 145.0,391.7 148.7,390.3 151.7,388.7 154.1,386.9 155.7,385.2 157.3,383.0 158.9,380.1 162.1,373.4 162.9,372.3 163.7,372.0 164.2,372.1 165.0,372.9 169.1,379.7 170.4,381.4 172.0,382.9 173.9,384.0 176.0,384.6 178.4,385.0 181.4,385.1 185.6,384.8 191.3,384.2 208.9,381.3 233.8,376.8 268.8,369.8 268.8,369.9 233.8,376.9 181.4,386.7 139.9,394.1 94.0,398.4 59.0,399.8 28.4,399.9" fill="#1aa0f0" fill-opacity="0.60"/>
<polygon points="39.6,399.9 59.2,399.7 93.9,398.3 139.6,393.7 148.7,391.7 155.4,389.7 161.0,387.4 169.9,382.9 173.6,381.7 175.5,381.5 177.6,381.6 185.4,382.8 189.9,383.1 194.5,383.0 200.1,382.5 211.6,380.7 233.8,376.8 268.8,369.8 268.8,369.9 233.8,376.9 181.4,386.7 139.9,394.1 94.0,398.4 59.0,399.8 39.6,399.9" fill="#1aa0f0" fill-opacity="0.60"/>
<polygon points="28.4,399.9 58.9,399.7 93.9,398.3 139.9,393.7 157.3,390.1 162.9,388.6 167.5,387.1 171.5,385.5 175.5,383.4 188.0,375.8 190.4,374.7 192.9,374.0 195.5,373.8 198.2,374.0 208.1,376.6 212.9,377.4 217.2,377.7 222.0,377.7 227.6,377.1 234.8,376.1 268.8,369.7 268.8,369.9 233.8,376.9 181.4,386.7 139.9,394.1 94.0,398.4 59.0,399.8 28.4,399.9" fill="#1aa0f0" fill-opacity="0.60"/>
<polyline points="28.4,399.9 59.2,399.6 67.2,399.1 69.0,398.8 70.7,398.1 71.7,397.4 72.8,396.3 74.7,393.0 76.5,387.8 80.5,374.1 81.6,371.9 82.1,371.3 82.7,371.1 83.2,371.2 83.8,371.8 84.8,373.9 89.4,388.9 90.4,391.7 91.5,393.9 92.8,395.8 94.2,396.9 95.8,397.5 98.2,397.7 108.1,397.0 139.9,394.0 181.4,386.7 233.8,376.9 268.8,369.9" fill="none" stroke="#e01c28" stroke-width="1.7"/>
<polyline points="28.4,399.9 58.9,399.7 93.9,398.1 109.7,396.4 120.4,395.1 127.9,393.8 133.5,392.4 137.0,391.1 139.6,389.5 141.8,387.5 143.7,384.8 145.3,381.7 146.9,377.4 150.9,363.0 151.7,361.1 152.5,360.5 153.0,360.9 153.8,362.4 157.8,375.3 159.2,378.6 160.8,381.3 162.4,383.2 164.5,384.8 166.9,385.7 170.1,386.2 174.4,386.3 180.3,385.9 195.8,383.6 233.8,376.8 268.8,369.8" fill="none" stroke="#e01c28" stroke-width="1.7"/>
<polyline points="28.4,399.9 59.2,399.8 72.0,399.2 76.8,398.7 79.7,397.8 82.1,396.5 84.6,394.6 90.2,388.9 91.8,387.9 93.4,387.4 95.0,387.6 96.9,388.5 102.2,393.2 104.6,394.9 106.8,395.9 108.9,396.4 111.6,396.5 115.0,396.4 139.9,394.1 181.4,386.7 233.8,376.9 268.8,369.9" fill="none" stroke="#2b8fd8" stroke-width="1.5"/>
<polyline points="28.4,399.9 59.2,399.7 76.8,398.8 81.3,398.3 84.8,397.7 89.1,396.4 93.1,394.2 96.3,391.7 104.9,383.7 107.6,382.1 110.0,381.3 112.4,381.5 115.0,382.6 117.4,384.1 124.4,389.4 126.8,390.9 128.9,391.9 131.4,392.7 133.8,393.2 136.7,393.5 139.9,393.6 149.8,392.1 181.4,386.7 233.8,376.9 268.8,369.8" fill="none" stroke="#2b8fd8" stroke-width="1.5"/>
<polyline points="28.4,399.9 58.9,399.7 93.9,398.3 124.7,395.1 139.9,393.1 145.0,391.7 148.7,390.3 151.7,388.7 154.1,386.9 155.7,385.2 157.3,383.0 158.9,380.1 162.1,373.4 162.9,372.3 163.7,372.0 164.2,372.1 165.0,372.9 169.1,379.7 170.4,381.4 172.0,382.9 173.9,384.0 176.0,384.6 178.4,385.0 181.4,385.1 185.6,384.8 191.3,384.2 208.9,381.3 233.8,376.8 268.8,369.8" fill="none" stroke="#2b8fd8" stroke-width="1.5"/>
<polyline points="28.4,399.9 58.9,399.7 93.9,398.3 139.6,393.7 148.7,391.7 155.4,389.7 161.0,387.4 169.9,382.9 173.6,381.7 175.5,381.5 177.6,381.6 185.4,382.8 189.9,383.1 194.5,383.0 200.1,382.5 211.6,380.7 233.8,376.8 268.8,369.8" fill="none" stroke="#2b8fd8" stroke-width="1.5"/>
<polyline points="28.4,399.9 58.9,399.7 93.9,398.3 139.9,393.7 157.3,390.1 162.9,388.6 167.5,387.1 171.5,385.5 175.5,383.4 188.0,375.8 190.4,374.7 192.9,374.0 195.5,373.8 198.2,374.0 208.1,376.6 212.9,377.4 217.2,377.7 222.0,377.7 227.6,377.1 234.8,376.1 268.8,369.7" fill="none" stroke="#2b8fd8" stroke-width="1.5"/>
<polyline points="28.4,399.9 59.0,399.8 94.0,398.4 139.9,394.1 181.4,386.7 233.8,376.9 268.8,369.9" fill="none" stroke="#2598e4" stroke-width="1.7"/>
<polyline points="28.4,399.7 59.2,399.3 67.2,398.6 69.0,398.3 70.7,397.6 71.7,396.8 72.8,395.6 74.7,392.2 76.5,386.7 80.8,370.9 82.1,367.8 82.7,367.2 83.2,366.9 84.0,367.1 85.1,368.3 88.6,375.6 89.9,377.9 91.0,379.1 92.3,380.0 93.9,380.4 101.7,380.7 104.1,380.5 108.9,379.8 111.8,380.0 113.7,380.6 115.6,381.5 123.6,386.9 127.3,388.8 129.7,389.4 131.9,389.7 134.3,389.5 136.4,388.9 138.8,387.7 140.7,386.1 142.6,383.8 144.5,380.5 145.8,377.2 147.1,373.0 151.1,357.2 151.9,355.3 152.7,354.6 153.3,354.8 153.8,355.5 156.5,361.3 157.3,362.6 158.1,363.4 158.6,363.7 159.4,363.6 160.2,363.2 162.6,361.0 163.4,360.8 164.0,360.9 165.3,362.4 168.5,367.9 170.1,369.7 171.5,370.7 172.8,371.3 176.3,372.1 179.0,372.2 181.6,372.2 189.9,370.9 193.4,370.7 197.1,371.2 204.9,373.2 208.6,373.9 212.6,374.1 216.1,373.6 218.0,372.9 219.9,372.0 221.5,370.8 223.1,369.3 225.7,365.8 230.3,358.0 231.4,356.8 232.4,356.4 233.5,356.8 234.6,357.8 238.6,363.7 240.7,366.2 243.1,368.1 245.8,369.3 249.5,370.1 254.4,370.3 260.5,369.8 268.8,368.7" fill="none" stroke="#141414" stroke-width="1.60" stroke-linejoin="round"/>
<polygon points="28.4,442.3 47.9,442.0 59.2,441.6 67.4,440.7 69.8,440.1 71.5,439.3 72.5,438.5 73.6,437.2 74.7,435.4 75.5,433.5 77.3,427.3 80.8,412.5 81.9,409.7 82.4,409.1 82.7,409.0 83.5,409.8 84.3,411.9 88.0,427.5 89.9,433.3 91.0,435.6 92.3,437.4 93.9,438.6 95.5,439.1 99.8,439.5 107.3,439.2 139.9,436.6 179.8,428.7 179.8,428.7 139.9,436.7 94.0,440.9 59.0,442.1 28.4,442.4" fill="#f03232" fill-opacity="0.62"/>
<polygon points="72.5,441.6 77.9,441.0 79.7,440.5 81.6,439.6 83.2,438.4 84.8,436.9 90.7,430.0 92.3,428.9 93.6,428.5 95.0,428.7 96.6,429.6 98.2,431.1 102.7,436.0 104.3,437.2 105.7,438.0 107.6,438.7 109.4,439.0 114.8,439.0 114.8,439.0 94.0,440.9 72.5,441.7" fill="#1aa0f0" fill-opacity="0.60"/>
<polygon points="28.4,442.2 56.2,441.7 65.6,441.2 80.0,440.0 85.1,439.2 89.4,438.3 94.2,436.7 96.6,435.4 98.7,433.9 102.2,430.4 107.8,422.8 109.2,421.6 110.2,421.1 111.3,421.2 112.6,422.0 119.3,429.5 121.5,431.3 123.9,432.7 126.8,433.8 130.5,434.6 134.8,435.1 139.9,435.2 147.4,434.2 157.3,432.6 181.4,428.1 233.8,418.8 268.8,411.8 268.8,411.9 233.8,418.9 181.4,428.4 139.9,436.7 94.0,440.9 59.0,442.1 28.4,442.4" fill="#1aa0f0" fill-opacity="0.60"/>
<polygon points="28.4,442.4 58.9,442.0 93.9,440.7 110.5,439.0 121.7,437.6 129.5,436.3 134.8,434.9 138.0,433.7 140.4,432.3 142.9,430.0 145.0,426.9 146.3,424.2 147.7,420.6 151.7,405.5 152.5,403.5 153.0,402.9 153.5,403.1 154.3,404.4 158.4,417.9 159.7,421.1 161.0,423.4 162.6,425.3 164.8,426.8 167.2,427.7 170.1,428.1 173.9,428.1 179.0,427.7 187.8,426.6 199.0,424.8 233.8,418.8 268.8,411.8 268.8,411.9 233.8,418.9 181.4,428.4 139.9,436.7 94.0,440.9 59.0,442.1 28.4,442.4" fill="#f03232" fill-opacity="0.62"/>
<polygon points="31.3,442.4 58.9,442.1 93.9,440.8 124.7,437.8 139.9,435.8 145.0,434.3 148.7,432.8 151.7,431.2 154.1,429.3 155.7,427.6 157.3,425.3 158.9,422.3 161.8,415.6 162.6,414.4 163.4,413.8 164.0,413.9 164.8,414.6 168.8,421.8 170.1,423.5 171.5,424.7 173.1,425.7 175.2,426.5 177.6,426.9 180.3,426.9 184.8,426.7 190.4,426.0 209.2,423.1 233.8,418.8 268.8,411.8 268.8,411.9 233.8,418.9 181.4,428.4 139.9,436.7 94.0,440.9 59.0,442.1 31.3,442.4" fill="#1aa0f0" fill-opacity="0.60"/>
<polygon points="151.4,434.4 156.5,433.0 160.0,431.4 162.9,429.1 169.1,423.0 170.7,422.0 172.0,421.5 173.3,421.5 174.9,421.9 180.8,425.4 184.0,426.6 187.5,426.9 192.6,426.3 192.6,426.3 181.4,428.4 151.4,434.4" fill="#1aa0f0" fill-opacity="0.60"/>
<polygon points="28.4,442.4 58.9,442.1 93.9,440.8 139.9,436.3 153.0,433.4 162.1,431.1 168.5,429.1 173.3,427.0 176.5,425.1 179.5,422.7 182.4,419.3 187.5,412.2 188.8,411.0 189.9,410.6 191.0,410.8 192.1,411.4 197.4,416.9 199.0,418.2 200.6,419.2 202.5,420.1 204.6,420.7 209.4,421.2 213.4,421.0 218.5,420.6 233.0,418.5 268.8,411.7 268.8,411.9 233.8,418.9 181.4,428.4 139.9,436.7 94.0,440.9 59.0,442.1 28.4,442.4" fill="#1aa0f0" fill-opacity="0.60"/>
<polyline points="28.4,442.3 47.9,442.0 59.2,441.6 67.4,440.7 69.8,440.1 71.5,439.3 72.5,438.5 73.6,437.2 74.7,435.4 75.5,433.5 77.3,427.3 80.8,412.5 81.9,409.7 82.4,409.1 82.7,409.0 83.5,409.8 84.3,411.9 88.3,428.5 89.4,431.9 90.7,435.1 92.3,437.4 93.9,438.6 96.1,439.2 99.3,439.5 104.6,439.4 112.1,438.9 139.9,436.6 181.4,428.4 233.8,418.9 268.8,411.9" fill="none" stroke="#e01c28" stroke-width="1.7"/>
<polyline points="28.4,442.4 58.9,442.0 93.9,440.7 110.5,439.0 121.7,437.6 129.5,436.3 134.8,434.9 138.0,433.7 140.4,432.3 142.9,430.0 145.0,426.9 146.3,424.2 147.7,420.6 151.7,405.5 152.5,403.5 153.0,402.9 153.5,403.1 154.3,404.4 158.4,417.9 159.7,421.1 161.0,423.4 162.6,425.3 164.8,426.8 167.2,427.7 170.1,428.1 173.9,428.1 179.0,427.7 187.8,426.6 199.0,424.8 233.8,418.8 268.8,411.8" fill="none" stroke="#e01c28" stroke-width="1.7"/>
<polyline points="28.4,442.4 59.2,442.1 73.1,441.6 77.9,441.0 80.5,440.1 83.0,438.6 85.4,436.3 90.4,430.3 92.0,429.0 93.6,428.5 95.3,428.8 96.9,429.8 101.9,435.2 104.1,437.1 106.2,438.3 108.4,438.9 111.0,439.1 114.5,439.0 139.9,436.7 181.4,428.4 233.8,418.9 268.8,411.9" fill="none" stroke="#2b8fd8" stroke-width="1.5"/>
<polyline points="28.4,442.2 56.2,441.7 65.6,441.2 80.0,440.0 85.1,439.2 89.4,438.3 94.2,436.7 96.6,435.4 98.7,433.9 102.2,430.4 107.8,422.8 109.2,421.6 110.2,421.1 111.3,421.2 112.6,422.0 119.3,429.5 121.5,431.3 123.9,432.7 126.8,433.8 130.5,434.6 134.8,435.1 139.9,435.2 147.4,434.2 157.3,432.6 181.4,428.1 233.8,418.8 268.8,411.8" fill="none" stroke="#2b8fd8" stroke-width="1.5"/>
<polyline points="28.4,442.4 58.9,442.1 93.9,440.8 124.7,437.8 139.9,435.8 145.0,434.3 148.7,432.8 151.7,431.2 154.1,429.3 155.7,427.6 157.3,425.3 158.9,422.3 161.8,415.6 162.6,414.4 163.4,413.8 164.0,413.9 164.8,414.6 168.8,421.8 170.1,423.5 171.5,424.7 173.1,425.7 175.2,426.5 177.6,426.9 180.3,426.9 184.8,426.7 190.4,426.0 209.2,423.1 233.8,418.8 268.8,411.8" fill="none" stroke="#2b8fd8" stroke-width="1.5"/>
<polyline points="28.4,442.4 58.9,442.1 93.9,440.9 139.9,436.7 153.3,433.9 156.2,433.1 158.4,432.2 160.5,431.0 162.4,429.6 169.1,423.0 170.7,422.0 172.0,421.5 173.6,421.5 175.2,422.0 180.6,425.3 183.2,426.4 185.9,426.9 189.1,426.8 195.3,425.9 233.8,418.9 268.8,411.9" fill="none" stroke="#2b8fd8" stroke-width="1.5"/>
<polyline points="28.4,442.4 58.9,442.1 93.9,440.8 139.9,436.3 153.0,433.4 162.1,431.1 168.5,429.1 173.3,427.0 176.5,425.1 179.5,422.7 182.4,419.3 187.5,412.2 188.8,411.0 189.9,410.6 191.0,410.8 192.1,411.4 197.4,416.9 199.0,418.2 200.6,419.2 202.5,420.1 204.6,420.7 209.4,421.2 213.4,421.0 218.5,420.6 233.0,418.5 268.8,411.7" fill="none" stroke="#2b8fd8" stroke-width="1.5"/>
<polyline points="28.4,442.4 59.0,442.1 94.0,440.9 139.9,436.7 181.4,428.4 233.8,418.9 268.8,411.9" fill="none" stroke="#2598e4" stroke-width="1.7"/>
<polyline points="28.4,442.0 47.4,441.5 59.2,440.9 67.4,439.7 69.8,439.0 71.5,438.1 72.8,436.9 73.9,435.4 75.7,431.2 77.6,424.3 81.1,408.3 82.1,405.2 83.0,404.4 83.8,404.9 84.6,406.5 87.2,414.5 88.6,417.7 89.6,419.5 91.0,420.8 92.3,421.3 96.1,422.2 100.1,424.0 101.9,424.4 103.0,424.2 104.3,423.6 108.9,420.0 110.0,419.6 111.0,419.7 111.8,420.1 112.9,420.9 118.0,426.8 121.2,429.6 123.1,430.6 125.2,431.5 127.3,431.9 129.7,432.2 132.2,432.1 134.3,431.8 136.4,431.3 138.6,430.5 139.9,429.7 141.2,428.7 142.6,427.3 143.9,425.5 145.5,422.7 147.1,418.7 148.7,413.2 151.9,399.8 152.7,397.8 153.0,397.4 153.5,397.2 154.1,397.6 154.6,398.4 157.0,404.0 157.8,405.3 158.4,405.8 158.9,406.0 159.7,405.9 160.5,405.2 162.6,402.8 163.4,402.5 164.0,402.5 165.0,403.5 167.7,407.4 169.6,409.4 174.9,413.0 177.9,414.6 180.0,415.0 181.1,414.9 182.2,414.5 184.0,413.2 188.0,409.2 189.1,408.6 190.2,408.5 191.3,408.9 192.3,409.8 196.6,414.5 199.3,416.8 202.2,418.3 205.7,419.1 210.2,419.2 215.3,418.2 219.6,416.7 221.5,415.6 223.1,414.5 225.2,412.4 227.1,409.9 229.0,406.4 232.7,397.7 233.8,396.2 234.6,395.8 235.4,396.2 236.2,397.1 239.9,404.6 241.8,407.4 243.9,409.6 246.3,411.1 249.8,412.1 254.4,412.4 260.5,412.0 268.8,410.8" fill="none" stroke="#141414" stroke-width="1.60" stroke-linejoin="round"/>
<polygon points="332.5,366.9 335.5,366.2 337.4,364.9 338.7,363.1 340.1,359.7 341.4,354.3 342.5,348.3 346.5,320.7 347.6,316.1 348.1,314.9 348.6,314.6 348.9,314.7 349.4,315.6 350.5,319.6 354.8,347.9 355.9,353.4 356.9,357.4 358.3,360.7 359.6,362.3 360.4,362.9 361.5,363.2 364.5,363.3 364.5,363.3 332.5,366.9" fill="#f03232" fill-opacity="0.62"/>
<polygon points="297.7,368.4 325.8,367.1 337.1,365.1 340.9,364.1 344.1,363.0 346.2,361.9 348.1,360.5 349.7,359.0 351.0,357.2 353.2,353.1 356.7,343.8 357.5,342.4 358.0,342.0 358.8,342.3 359.6,343.6 362.8,351.5 365.0,355.3 366.1,356.6 367.4,357.7 368.7,358.5 370.3,359.1 372.5,359.6 374.9,359.8 381.3,359.6 391.0,358.5 406.0,356.3 438.2,344.9 466.3,332.3 486.4,325.3 497.7,321.1 497.7,321.2 486.5,325.3 466.4,332.4 438.3,344.9 406.2,356.5 366.0,363.1 325.8,367.6 297.7,368.5" fill="#1aa0f0" fill-opacity="0.60"/>
<polygon points="297.7,368.2 325.8,367.0 335.5,365.5 342.5,364.2 347.3,363.0 350.8,361.6 352.9,360.4 355.1,358.8 356.9,357.0 358.8,354.8 360.7,352.0 362.6,348.8 369.3,335.8 371.2,333.3 372.0,332.6 372.8,332.2 373.6,332.2 374.4,332.4 375.2,332.9 376.2,334.0 378.1,336.7 382.4,344.0 384.8,347.7 387.2,350.6 389.9,352.9 392.9,354.4 396.1,355.2 400.4,355.5 406.0,355.2 418.1,351.5 438.2,344.6 466.3,332.2 486.4,325.2 506.5,317.8 538.7,304.6 538.7,304.7 506.6,317.9 486.5,325.3 466.4,332.4 438.3,344.9 406.2,356.5 366.0,363.1 325.8,367.6 297.7,368.5" fill="#1aa0f0" fill-opacity="0.60"/>
<polygon points="297.7,368.4 325.8,367.4 349.7,364.5 365.8,362.4 375.7,360.2 383.2,358.3 388.8,356.3 393.1,354.2 396.4,351.9 399.0,349.0 401.2,345.5 403.1,341.2 404.7,335.9 406.0,330.3 410.6,304.9 411.4,302.1 411.9,301.3 412.2,301.1 412.4,301.2 413.0,301.9 413.8,304.4 418.1,325.5 419.7,331.4 421.3,335.6 423.2,338.9 424.2,340.2 425.6,341.3 426.9,342.1 428.3,342.6 431.7,343.1 434.7,343.0 438.2,342.5 445.7,340.1 454.5,336.7 466.3,331.8 486.4,325.0 506.5,317.7 538.7,304.6 538.7,304.7 506.6,317.9 486.5,325.3 466.4,332.4 438.3,344.9 406.2,356.5 366.0,363.1 325.8,367.6 297.7,368.5" fill="#f03232" fill-opacity="0.62"/>
<polygon points="297.7,368.5 325.8,367.6 362.3,363.4 366.1,362.9 383.5,359.8 392.6,358.0 399.0,356.5 403.1,355.3 406.3,354.1 410.0,351.2 413.0,347.9 414.8,344.8 416.5,341.1 417.8,337.0 420.7,326.3 421.6,324.4 422.1,323.8 422.6,323.9 423.4,325.0 427.2,335.5 428.5,338.2 429.9,340.0 431.5,341.4 433.3,342.2 435.8,342.6 438.4,342.6 442.2,341.6 446.8,340.1 454.8,336.9 466.3,332.1 486.4,325.2 506.5,317.8 538.7,304.6 538.7,304.7 506.6,317.9 486.5,325.3 466.4,332.4 438.3,344.9 406.2,356.5 366.0,363.1 325.8,367.6 297.7,368.5" fill="#1aa0f0" fill-opacity="0.60"/>
<polygon points="297.7,368.4 325.8,367.5 363.1,363.1 366.1,362.7 384.0,359.4 392.9,357.6 399.8,355.9 406.3,353.9 410.3,351.5 413.5,349.3 416.2,347.0 418.9,344.3 426.4,335.3 427.7,334.1 429.1,333.4 430.4,333.2 432.0,333.5 438.2,336.7 441.4,337.4 443.5,337.6 445.9,337.5 451.8,336.3 458.0,334.4 466.3,331.3 486.4,324.9 506.5,317.6 538.7,304.5 538.7,304.7 506.6,317.9 486.5,325.3 466.4,332.4 438.3,344.9 406.2,356.5 366.0,363.1 325.8,367.6 297.7,368.5" fill="#1aa0f0" fill-opacity="0.60"/>
<polygon points="297.7,368.4 325.8,367.5 365.8,362.8 389.9,358.4 406.0,355.1 413.8,351.7 420.5,348.3 425.6,345.2 429.9,341.9 433.3,338.6 436.6,334.7 438.4,332.1 443.3,324.2 445.1,321.6 446.8,320.0 448.1,319.2 449.4,319.0 451.0,319.5 452.6,320.4 458.0,324.3 460.2,325.4 462.3,326.1 464.7,326.5 468.7,326.8 471.9,326.6 475.4,326.2 480.5,325.2 486.7,323.6 505.5,317.5 538.7,304.4 538.7,304.7 506.6,317.9 486.5,325.3 466.4,332.4 438.3,344.9 406.2,356.5 366.0,363.1 325.8,367.6 297.7,368.5" fill="#1aa0f0" fill-opacity="0.60"/>
<polyline points="297.7,368.5 325.8,367.6 334.4,366.5 336.0,365.9 337.4,364.9 338.4,363.5 339.5,361.3 341.1,355.6 342.7,346.6 346.5,320.7 347.6,316.1 348.1,314.9 348.6,314.6 348.9,314.7 349.4,315.6 350.5,319.6 354.8,347.9 355.9,353.4 356.9,357.4 358.3,360.7 359.6,362.3 361.2,363.2 363.6,363.3 366.9,363.0 406.3,356.5 438.2,345.0 466.3,332.4 486.4,325.3 506.5,317.9 538.7,304.7" fill="none" stroke="#e01c28" stroke-width="1.7"/>
<polyline points="297.7,368.4 325.8,367.4 349.7,364.5 365.8,362.4 375.7,360.2 383.2,358.3 388.8,356.3 393.1,354.2 396.4,351.9 399.0,349.0 401.2,345.5 403.1,341.2 404.7,335.9 406.0,330.3 410.6,304.9 411.4,302.1 411.9,301.3 412.2,301.1 412.4,301.2 413.0,301.9 413.8,304.4 418.1,325.5 419.7,331.4 421.3,335.6 423.2,338.9 424.2,340.2 425.6,341.3 426.9,342.1 428.3,342.6 431.7,343.1 434.7,343.0 438.2,342.5 445.7,340.1 454.5,336.7 466.3,331.8 486.4,325.0 506.5,317.7 538.7,304.6" fill="none" stroke="#e01c28" stroke-width="1.7"/>
<polyline points="297.7,368.4 325.8,367.1 337.1,365.1 340.9,364.1 344.1,363.0 346.2,361.9 348.1,360.5 349.7,359.0 351.0,357.2 353.2,353.1 356.7,343.8 357.5,342.4 358.0,342.0 358.8,342.3 359.6,343.6 362.8,351.5 365.0,355.3 366.1,356.6 367.4,357.7 368.7,358.5 370.3,359.1 372.5,359.6 374.9,359.8 381.3,359.6 391.3,358.5 406.3,356.2 438.2,344.9 466.3,332.3 486.4,325.3 506.5,317.8 538.7,304.7" fill="none" stroke="#2b8fd8" stroke-width="1.5"/>
<polyline points="297.7,368.2 325.8,367.0 335.5,365.5 342.5,364.2 347.3,363.0 350.8,361.6 352.9,360.4 355.1,358.8 356.9,357.0 358.8,354.8 360.7,352.0 362.6,348.8 369.3,335.8 371.2,333.3 372.0,332.6 372.8,332.2 373.6,332.2 374.4,332.4 375.2,332.9 376.2,334.0 378.1,336.7 382.4,344.0 384.8,347.7 387.2,350.6 389.9,352.9 392.9,354.4 396.1,355.2 400.4,355.5 406.0,355.2 418.1,351.5 438.2,344.6 466.3,332.2 486.4,325.2 506.5,317.8 538.7,304.6" fill="none" stroke="#2b8fd8" stroke-width="1.5"/>
<polyline points="297.7,368.5 325.8,367.6 362.3,363.4 366.1,362.9 383.5,359.8 392.6,358.0 399.0,356.5 403.1,355.3 406.3,354.1 410.0,351.2 413.0,347.9 414.8,344.8 416.5,341.1 417.8,337.0 420.7,326.3 421.6,324.4 422.1,323.8 422.6,323.9 423.4,325.0 427.2,335.5 428.5,338.2 429.9,340.0 431.5,341.4 433.3,342.2 435.8,342.6 438.4,342.6 442.2,341.6 446.8,340.1 454.8,336.9 466.3,332.1 486.4,325.2 506.5,317.8 538.7,304.6" fill="none" stroke="#2b8fd8" stroke-width="1.5"/>
<polyline points="297.7,368.4 325.8,367.5 363.1,363.1 366.1,362.7 384.0,359.4 392.9,357.6 399.8,355.9 406.3,353.9 410.3,351.5 413.5,349.3 416.2,347.0 418.9,344.3 426.4,335.3 427.7,334.1 429.1,333.4 430.4,333.2 432.0,333.5 438.2,336.7 441.4,337.4 443.5,337.6 445.9,337.5 451.8,336.3 458.0,334.4 466.3,331.3 486.4,324.9 506.5,317.6 538.7,304.5" fill="none" stroke="#2b8fd8" stroke-width="1.5"/>
<polyline points="297.7,368.4 325.8,367.5 365.8,362.8 389.9,358.4 406.0,355.1 413.8,351.7 420.5,348.3 425.6,345.2 429.9,341.9 433.3,338.6 436.6,334.7 438.4,332.1 443.3,324.2 445.1,321.6 446.8,320.0 448.1,319.2 449.4,319.0 451.0,319.5 452.6,320.4 458.0,324.3 460.2,325.4 462.3,326.1 464.7,326.5 468.7,326.8 471.9,326.6 475.4,326.2 480.5,325.2 486.7,323.6 505.5,317.5 538.7,304.4" fill="none" stroke="#2b8fd8" stroke-width="1.5"/>
<polyline points="297.7,368.5 325.8,367.6 366.0,363.1 406.2,356.5 438.3,344.9 466.4,332.4 486.5,325.3 506.6,317.9 538.7,304.7" fill="none" stroke="#2598e4" stroke-width="1.7"/>
<polyline points="297.7,367.7 314.1,366.7 325.8,365.7 331.2,364.6 334.2,363.8 336.0,362.9 337.4,361.6 338.4,360.0 339.5,357.5 341.1,351.3 342.7,341.8 346.8,312.3 347.8,307.5 348.4,306.2 348.9,305.7 349.2,305.7 349.7,306.3 350.5,308.3 353.7,322.4 355.1,326.2 356.1,327.6 357.7,328.3 358.6,328.9 361.2,332.9 362.3,334.1 363.6,334.7 365.0,334.3 366.3,333.3 369.5,329.5 370.9,328.2 372.5,327.4 373.8,327.5 375.2,328.4 376.5,329.9 383.5,340.9 385.4,343.2 387.2,345.0 389.4,346.3 391.5,346.8 393.9,346.5 396.1,345.4 398.2,343.5 400.4,340.4 402.2,336.3 403.9,331.5 405.2,326.1 406.3,320.8 410.8,292.5 411.9,288.9 412.2,288.4 412.7,288.0 413.2,288.3 413.8,289.2 416.2,295.9 417.0,297.5 417.5,298.2 418.1,298.6 418.9,298.4 421.0,295.9 421.6,295.5 422.1,295.6 422.6,296.1 423.7,298.4 426.4,306.6 428.0,310.3 429.3,312.6 430.7,314.4 432.3,316.1 433.9,317.4 435.2,318.2 436.3,318.5 437.4,318.6 438.4,318.4 440.6,317.2 445.7,313.2 447.3,312.6 448.6,312.6 450.0,313.1 451.3,314.0 456.1,318.4 458.5,320.2 461.2,321.5 463.9,322.1 467.9,322.0 469.5,321.6 470.9,321.1 472.2,320.2 473.3,319.2 475.4,316.3 477.3,312.2 478.9,307.3 484.3,285.8 485.4,283.1 486.2,282.2 486.7,282.3 487.2,282.8 488.3,285.1 492.6,300.7 495.0,307.5 496.1,309.6 497.4,311.6 498.8,312.9 500.4,313.9 502.5,314.4 504.9,314.5 507.3,314.2 511.1,313.3 522.1,309.8 538.7,303.6" fill="none" stroke="#141414" stroke-width="1.60" stroke-linejoin="round"/>
<polygon points="335.5,436.2 337.9,435.2 339.3,433.8 340.3,431.8 341.4,428.1 343.0,418.7 346.2,391.1 347.0,386.6 347.6,385.1 347.8,384.7 348.1,384.7 348.6,385.7 349.4,389.4 352.7,415.2 353.5,420.5 354.5,425.4 355.6,428.3 356.7,429.8 358.0,430.3 360.4,430.1 360.4,430.2 335.5,436.2" fill="#f03232" fill-opacity="0.62"/>
<polygon points="297.7,445.3 336.6,435.7 343.8,433.5 347.8,431.8 348.9,431.1 350.0,430.0 351.6,427.1 352.9,423.1 355.6,412.4 356.1,411.2 356.7,410.8 357.2,411.4 357.7,412.7 360.2,421.3 361.5,424.7 362.3,426.0 363.1,426.8 364.2,427.4 365.3,427.6 369.3,427.4 376.8,425.9 417.5,416.3 417.5,416.3 297.7,445.4" fill="#1aa0f0" fill-opacity="0.60"/>
<polygon points="297.7,445.3 346.5,433.2 356.1,430.5 360.7,428.7 362.0,427.8 363.4,426.7 364.7,425.1 365.8,423.4 367.9,418.6 372.0,407.5 373.0,405.7 373.8,405.2 374.6,405.5 375.7,406.9 379.7,416.2 381.9,419.7 382.9,420.9 384.3,421.7 385.6,422.2 387.2,422.3 392.6,421.7 403.9,419.4 463.4,405.2 463.4,405.2 297.7,445.4" fill="#1aa0f0" fill-opacity="0.60"/>
<polygon points="297.7,445.3 352.1,431.9 376.8,425.6 384.3,423.3 389.9,421.4 394.2,419.4 397.4,417.4 399.6,415.4 401.4,412.6 402.8,409.5 404.1,404.7 405.2,399.4 406.3,392.4 409.8,363.9 410.6,360.3 410.8,359.8 411.1,359.7 411.6,360.7 412.4,364.7 415.7,389.8 416.7,396.3 418.1,402.2 419.4,406.0 421.0,408.6 422.9,410.2 425.3,411.0 428.8,411.3 433.3,411.0 439.5,410.1 447.8,408.4 475.7,402.0 538.7,386.9 538.7,387.0 297.7,445.4" fill="#f03232" fill-opacity="0.62"/>
<polygon points="331.5,437.1 375.7,426.3 395.3,421.4 405.7,418.3 409.0,417.0 411.4,415.7 413.0,414.5 414.3,412.8 415.4,410.6 416.2,408.3 417.8,400.8 420.7,381.1 421.3,379.0 421.6,378.6 421.8,378.5 422.4,379.5 422.9,381.8 425.6,398.9 427.2,405.5 428.0,407.5 429.1,409.2 430.4,410.2 432.0,410.7 434.4,410.8 437.6,410.5 448.1,408.6 467.7,404.1 511.9,393.4 511.9,393.5 331.5,437.2" fill="#1aa0f0" fill-opacity="0.60"/>
<polygon points="402.2,420.0 416.5,416.4 418.9,415.6 420.7,414.7 422.4,413.5 424.0,411.6 429.1,403.5 430.1,402.5 430.9,402.1 432.0,402.3 433.1,403.1 436.6,407.3 437.9,408.5 439.2,409.4 440.9,409.8 442.7,409.9 445.1,409.5 459.3,406.2 459.3,406.2 402.2,420.0" fill="#1aa0f0" fill-opacity="0.60"/>
<polygon points="315.1,441.1 403.1,419.6 419.4,415.2 428.8,412.3 431.7,411.1 434.2,409.8 436.0,408.5 437.9,406.8 439.5,404.9 441.1,402.5 445.9,393.8 447.0,392.4 448.1,391.8 448.9,391.9 450.0,392.7 454.5,398.8 455.9,400.3 457.5,401.5 459.1,402.4 460.7,402.9 462.6,403.2 465.0,403.2 472.2,402.2 484.0,399.8 538.7,386.9 538.7,387.0 315.1,441.1" fill="#1aa0f0" fill-opacity="0.60"/>
<polyline points="297.7,445.4 335.2,436.2 337.6,435.3 339.0,434.2 339.8,433.0 340.6,431.0 341.9,425.5 343.3,416.6 346.2,391.1 347.0,386.6 347.6,385.1 347.8,384.7 348.1,384.7 348.6,385.7 349.4,389.4 352.7,415.2 354.3,424.4 355.1,427.1 356.1,429.2 357.2,430.1 358.6,430.4 363.1,429.5 538.7,387.0" fill="none" stroke="#e01c28" stroke-width="1.7"/>
<polyline points="297.7,445.3 352.1,431.9 376.8,425.6 384.3,423.3 389.9,421.4 394.2,419.4 397.4,417.4 399.6,415.4 401.4,412.6 402.8,409.5 404.1,404.7 405.2,399.4 406.3,392.4 409.8,363.9 410.6,360.3 410.8,359.8 411.1,359.7 411.6,360.7 412.4,364.7 415.7,389.8 416.7,396.3 418.1,402.2 419.4,406.0 421.0,408.6 422.9,410.2 425.3,411.0 428.8,411.3 433.3,411.0 439.5,410.1 447.8,408.4 475.7,402.0 538.7,386.9" fill="none" stroke="#e01c28" stroke-width="1.7"/>
<polyline points="297.7,445.3 336.6,435.7 343.8,433.5 347.8,431.8 348.9,431.1 350.0,430.0 351.6,427.1 352.9,423.1 355.6,412.4 356.1,411.2 356.7,410.8 357.2,411.4 357.7,412.7 360.7,422.9 361.5,424.7 362.3,426.0 363.4,427.0 364.7,427.5 366.3,427.6 368.7,427.4 377.1,425.9 394.2,421.9 538.7,387.0" fill="none" stroke="#2b8fd8" stroke-width="1.5"/>
<polyline points="297.7,445.3 346.5,433.2 356.1,430.5 360.7,428.7 362.0,427.8 363.4,426.7 364.7,425.1 365.8,423.4 367.9,418.6 372.0,407.5 373.0,405.7 373.8,405.2 374.6,405.5 375.7,406.9 380.0,416.7 381.1,418.6 382.4,420.3 383.8,421.4 385.4,422.1 387.2,422.3 389.4,422.2 398.5,420.6 416.2,416.5 538.7,387.0" fill="none" stroke="#2b8fd8" stroke-width="1.5"/>
<polyline points="297.7,445.3 390.2,422.7 403.3,419.1 407.3,417.7 410.3,416.3 412.4,414.9 414.0,413.2 415.1,411.3 416.2,408.3 417.8,400.8 420.7,381.1 421.3,379.0 421.6,378.6 421.8,378.5 422.4,379.5 422.9,381.8 425.6,398.9 427.2,405.5 428.3,408.1 429.3,409.5 430.7,410.3 432.8,410.8 435.8,410.7 439.5,410.2 452.1,407.7 538.7,386.9" fill="none" stroke="#2b8fd8" stroke-width="1.5"/>
<polyline points="297.7,445.3 401.4,420.2 417.8,416.0 420.7,414.7 422.9,412.9 424.8,410.5 428.8,403.8 429.9,402.7 430.9,402.1 431.7,402.2 432.8,402.8 436.8,407.5 438.7,409.1 440.9,409.8 443.5,409.8 456.9,406.7 538.7,387.0" fill="none" stroke="#2b8fd8" stroke-width="1.5"/>
<polyline points="297.7,445.3 399.6,420.4 417.5,415.8 428.0,412.6 431.2,411.3 433.9,410.0 436.0,408.5 437.9,406.8 439.5,404.9 441.1,402.5 445.9,393.8 447.0,392.4 448.1,391.8 448.9,391.9 450.0,392.7 454.5,398.8 455.9,400.3 457.5,401.5 459.1,402.4 460.7,402.9 462.6,403.2 465.0,403.2 472.2,402.2 484.0,399.8 538.7,386.9" fill="none" stroke="#2b8fd8" stroke-width="1.5"/>
<polyline points="297.7,445.4 538.7,387.0" fill="none" stroke="#2598e4" stroke-width="1.7"/>
<polyline points="297.7,445.2 334.4,435.8 337.4,434.8 339.0,433.4 339.8,432.1 340.6,430.1 341.9,424.5 343.3,415.5 346.2,389.6 347.3,383.8 347.8,382.7 348.1,382.6 348.6,383.3 349.4,386.5 351.9,402.3 352.7,406.4 353.2,408.1 353.7,409.1 354.3,409.4 356.1,408.1 356.7,408.3 356.9,408.7 357.7,410.8 360.4,420.3 361.2,422.1 362.3,423.4 363.1,423.7 364.2,423.4 365.0,422.7 366.1,421.2 367.9,417.2 372.0,406.3 373.0,404.6 373.8,404.1 374.6,404.3 375.7,405.8 379.2,413.7 380.8,416.8 382.1,418.6 383.8,419.9 384.8,420.4 386.2,420.6 389.4,420.1 393.7,418.5 397.4,416.2 399.6,414.2 401.4,411.3 402.8,408.1 404.1,403.3 405.2,397.8 406.3,390.7 409.8,361.6 410.6,357.8 411.1,357.0 411.6,357.7 412.2,359.8 414.8,377.9 415.7,382.1 416.5,384.6 417.0,385.3 417.3,385.3 418.1,384.2 418.9,381.3 420.7,372.1 421.3,370.6 421.6,370.3 421.8,370.3 422.4,371.5 422.9,373.9 425.3,387.9 426.1,391.2 426.9,393.3 427.4,394.3 428.3,395.0 430.9,395.8 432.0,396.4 435.8,400.5 436.8,401.3 437.6,401.7 438.4,401.8 439.2,401.6 440.9,400.3 442.5,398.2 446.2,391.9 447.3,390.8 448.1,390.4 449.2,390.7 450.2,391.7 454.0,396.9 455.9,399.0 457.7,400.5 459.6,401.3 461.2,401.6 462.8,401.7 466.9,401.2 470.9,399.8 473.6,398.1 474.9,396.6 476.0,394.9 477.0,392.6 478.1,389.5 480.0,381.7 483.7,361.9 484.5,359.3 485.1,358.4 485.4,358.2 485.6,358.3 486.2,359.0 487.0,361.3 490.4,378.3 492.3,385.6 493.4,388.5 494.5,390.5 495.5,391.9 496.9,392.9 498.5,393.6 500.9,393.8 503.9,393.7 507.9,393.2 519.4,391.0 538.7,386.6" fill="none" stroke="#141414" stroke-width="1.60" stroke-linejoin="round"/>
<polygon points="28.5,583.7 47.8,583.7 55.4,583.5 57.8,583.2 59.6,582.8 61.3,582.1 62.6,581.2 63.9,579.9 65.0,578.6 67.4,574.2 69.9,567.8 73.9,554.7 75.5,550.0 76.6,547.5 77.4,546.2 78.2,545.4 79.0,545.1 79.8,545.3 80.6,546.1 81.4,547.4 82.5,549.7 84.1,554.4 88.4,568.4 91.1,575.2 92.4,577.7 94.0,580.0 95.6,581.5 97.2,582.5 98.9,583.1 100.7,583.5 106.6,583.9 163.3,584.4 163.3,584.4 28.5,583.8" fill="#f03232" fill-opacity="0.62"/>
<polygon points="28.5,583.7 68.8,583.6 77.1,583.4 82.5,582.9 86.5,582.1 90.0,580.9 93.8,579.0 101.3,574.2 103.4,573.4 105.3,573.2 107.2,573.5 109.1,574.2 117.1,579.3 121.1,581.3 125.7,582.7 131.1,583.4 139.7,583.9 156.9,584.2 238.8,584.7 238.8,584.7 28.5,583.8" fill="#1aa0f0" fill-opacity="0.60"/>
<polyline points="28.5,583.7 47.8,583.7 55.4,583.5 57.8,583.2 59.6,582.8 61.3,582.1 62.6,581.2 63.9,579.9 65.0,578.6 67.4,574.2 69.9,567.8 73.9,554.7 75.5,550.0 76.6,547.5 77.4,546.2 78.2,545.4 79.0,545.1 79.8,545.3 80.6,546.1 81.4,547.4 82.5,549.7 84.1,554.4 88.6,569.2 90.3,573.4 91.9,576.8 93.5,579.3 95.4,581.3 97.5,582.6 99.9,583.3 105.8,583.8 123.3,584.1 269.9,584.8" fill="none" stroke="#e01c28" stroke-width="1.7"/>
<polyline points="28.5,583.7 68.8,583.6 77.1,583.4 82.5,582.9 86.5,582.1 90.0,580.9 93.8,579.0 101.3,574.2 103.4,573.4 105.3,573.2 107.2,573.5 109.1,574.2 117.1,579.3 121.4,581.4 126.2,582.8 132.4,583.5 142.9,583.9 163.8,584.2 269.9,584.8" fill="none" stroke="#2b8fd8" stroke-width="1.5"/>
<polyline points="28.5,583.8 269.9,584.8" fill="none" stroke="#2598e4" stroke-width="1.7"/>
<polyline points="28.5,583.6 47.3,583.5 55.4,583.3 57.8,583.0 59.6,582.5 61.3,581.8 62.6,580.9 63.9,579.6 65.0,578.3 67.2,574.4 69.6,568.2 74.1,553.3 75.8,548.7 76.8,546.4 77.6,545.2 78.4,544.5 79.3,544.3 79.8,544.5 80.6,545.2 81.9,547.4 83.5,551.4 87.3,562.8 89.2,567.8 91.1,571.6 92.1,573.1 93.2,574.1 94.8,575.0 96.4,575.2 98.3,574.8 103.4,573.0 105.0,572.8 106.6,573.1 108.3,573.6 109.9,574.5 116.0,578.5 119.0,580.2 122.2,581.6 125.7,582.6 129.5,583.2 134.0,583.6 151.2,584.0 269.9,584.8" fill="none" stroke="#141414" stroke-width="1.60" stroke-linejoin="round"/>
<polygon points="54.0,634.1 58.8,633.8 61.8,632.9 64.2,631.4 66.4,628.8 68.2,625.4 70.1,620.7 75.5,603.4 77.1,598.9 78.7,595.9 79.5,595.0 80.3,594.7 81.1,594.8 81.9,595.5 82.7,596.7 83.8,598.9 85.4,603.4 90.8,620.8 92.7,625.4 94.6,628.8 96.7,631.4 99.1,632.9 102.1,633.7 106.9,634.0 106.9,634.1 54.0,634.1" fill="#f03232" fill-opacity="0.62"/>
<polygon points="28.5,634.0 69.9,633.7 79.3,633.4 84.9,632.9 88.9,632.1 92.7,630.7 96.2,628.9 103.1,624.2 105.0,623.4 106.9,623.1 108.5,623.3 110.4,624.0 118.2,629.1 122.2,631.2 126.8,632.5 132.1,633.2 141.5,633.6 159.0,633.8 243.0,633.9 243.0,634.0 28.5,634.1" fill="#1aa0f0" fill-opacity="0.60"/>
<polyline points="28.5,634.1 56.7,634.0 60.7,633.3 62.3,632.7 63.7,631.8 65.0,630.6 66.1,629.2 68.5,624.8 70.9,618.4 75.2,604.2 76.8,599.6 77.9,597.2 78.7,595.9 79.5,595.0 80.3,594.7 81.1,594.8 81.9,595.5 82.7,596.7 83.8,598.9 85.7,604.2 90.5,620.0 92.1,624.2 93.5,627.0 95.1,629.6 97.0,631.6 98.9,632.8 101.3,633.6 104.5,634.0 110.4,634.1 269.9,634.0" fill="none" stroke="#e01c28" stroke-width="1.7"/>
<polyline points="28.5,634.0 69.9,633.7 79.3,633.4 84.9,632.9 88.9,632.1 92.7,630.7 96.2,628.9 103.1,624.2 105.0,623.4 106.9,623.1 108.5,623.3 110.4,624.0 118.2,629.1 122.5,631.3 127.3,632.6 133.2,633.3 144.0,633.7 164.6,633.9 269.9,633.9" fill="none" stroke="#2b8fd8" stroke-width="1.5"/>
<polyline points="28.5,634.1 269.9,634.0" fill="none" stroke="#2598e4" stroke-width="1.7"/>
<polyline points="28.5,634.0 56.7,633.8 60.7,633.1 62.3,632.4 63.7,631.5 65.0,630.3 66.1,628.9 68.5,624.4 70.9,618.0 75.2,603.7 76.8,599.0 77.9,596.6 78.7,595.2 79.8,594.1 80.6,593.9 81.1,594.0 81.9,594.7 83.5,597.3 85.2,601.4 88.9,613.0 90.8,618.2 92.7,622.1 93.8,623.7 94.8,624.8 96.4,625.7 98.3,625.9 100.2,625.4 105.0,623.3 106.6,623.1 108.3,623.2 109.6,623.7 111.2,624.5 117.1,628.5 120.1,630.2 123.3,631.6 126.5,632.4 130.3,633.0 134.8,633.4 152.0,633.8 269.9,633.9" fill="none" stroke="#141414" stroke-width="1.60" stroke-linejoin="round"/>
<polygon points="54.0,675.8 58.6,675.6 61.8,674.9 63.1,674.2 64.5,673.3 66.6,670.9 68.5,667.6 70.4,663.3 75.8,646.8 77.6,641.8 78.7,639.7 79.5,638.6 80.3,638.0 81.1,637.8 81.9,638.1 82.7,638.9 83.5,640.1 84.6,642.3 86.2,646.7 91.6,663.3 93.5,667.7 95.4,671.0 97.5,673.5 98.9,674.4 100.2,675.1 103.4,675.9 108.0,676.2 108.0,676.2 54.0,675.9" fill="#f03232" fill-opacity="0.62"/>
<polygon points="28.5,675.4 49.2,675.3 63.7,675.0 74.4,674.5 82.5,673.6 88.1,672.6 92.9,671.2 97.5,669.2 105.3,665.0 107.2,664.3 109.1,664.1 110.7,664.3 112.5,664.9 121.4,669.9 124.4,671.2 127.3,672.2 130.8,673.1 134.6,673.8 144.2,675.0 158.5,675.7 179.7,676.3 269.9,677.2 269.9,677.3 28.5,675.7" fill="#1aa0f0" fill-opacity="0.60"/>
<polyline points="28.5,675.7 57.0,675.8 61.0,675.2 62.6,674.5 63.9,673.7 65.3,672.5 66.4,671.2 68.8,667.1 71.2,661.0 75.8,646.8 77.4,642.4 78.4,640.2 79.3,638.9 80.3,638.0 81.1,637.8 81.9,638.1 82.7,638.9 83.5,640.1 84.6,642.3 86.2,646.7 91.1,661.8 92.7,665.9 94.3,669.2 95.9,671.7 97.8,673.7 99.7,674.9 102.1,675.7 105.3,676.1 111.2,676.2 269.9,677.3" fill="none" stroke="#e01c28" stroke-width="1.7"/>
<polyline points="28.5,675.4 49.2,675.3 63.7,675.0 74.4,674.5 82.5,673.6 88.1,672.6 92.9,671.2 97.5,669.2 105.3,665.0 107.2,664.3 109.1,664.1 110.7,664.3 112.5,664.9 121.4,669.9 124.4,671.2 127.3,672.2 130.8,673.1 134.6,673.8 144.2,675.0 158.5,675.7 179.7,676.3 269.9,677.2" fill="none" stroke="#2b8fd8" stroke-width="1.5"/>
<polyline points="28.5,675.7 269.9,677.3" fill="none" stroke="#2598e4" stroke-width="1.7"/>
<polyline points="28.5,675.4 48.9,675.3 56.7,675.0 59.1,674.8 61.0,674.3 62.6,673.6 63.9,672.7 65.3,671.5 66.4,670.2 68.8,665.9 71.2,659.7 75.8,645.1 77.4,640.6 79.3,636.9 80.3,635.8 81.1,635.6 81.9,635.8 82.7,636.4 83.5,637.5 84.6,639.6 86.2,643.6 90.5,656.1 92.9,661.6 94.0,663.4 95.4,665.1 96.7,666.2 98.0,666.7 99.4,666.8 100.7,666.6 107.2,664.3 108.8,664.1 110.1,664.2 111.7,664.6 113.4,665.3 119.5,668.9 122.5,670.4 128.1,672.4 132.1,673.4 136.7,674.2 148.8,675.3 163.3,675.9 184.5,676.4 269.9,677.2" fill="none" stroke="#141414" stroke-width="1.60" stroke-linejoin="round"/>
<polygon points="324.9,574.0 329.4,573.6 331.0,573.2 332.4,572.5 333.7,571.4 334.8,570.1 335.9,568.2 336.9,565.8 338.8,559.7 340.7,551.1 345.5,522.0 347.1,513.4 348.7,507.6 349.5,506.1 350.3,505.6 351.1,506.0 351.9,507.6 353.5,513.3 355.1,521.8 359.9,551.0 361.8,559.7 363.7,565.8 364.7,568.3 365.8,570.1 366.9,571.5 368.2,572.6 369.5,573.3 371.1,573.8 375.7,574.2 375.7,574.3 324.9,574.0" fill="#f03232" fill-opacity="0.62"/>
<polygon points="299.5,573.7 324.1,573.7 339.3,573.4 347.6,573.0 353.0,572.1 357.0,570.7 360.4,568.7 364.2,565.4 371.7,557.4 373.8,555.9 375.7,555.4 377.6,555.8 379.7,557.2 381.6,559.1 388.0,566.1 390.1,568.0 392.3,569.6 394.7,570.9 397.1,571.9 400.0,572.6 403.2,573.1 413.6,573.8 434.5,574.3 539.8,575.0 539.8,575.0 299.5,573.9" fill="#1aa0f0" fill-opacity="0.60"/>
<polyline points="299.5,573.9 323.0,574.0 328.1,573.8 330.2,573.5 331.8,572.8 333.2,571.9 334.5,570.4 335.9,568.2 336.9,565.8 339.1,558.6 341.5,546.8 345.5,522.0 347.1,513.4 348.7,507.6 349.5,506.1 350.3,505.6 351.1,506.0 351.9,507.6 353.5,513.3 355.1,521.8 359.6,549.6 361.0,556.3 362.3,561.7 363.9,566.5 365.5,569.7 367.4,572.0 368.5,572.8 369.8,573.4 373.0,574.1 378.4,574.3 539.8,575.0" fill="none" stroke="#e01c28" stroke-width="1.7"/>
<polyline points="299.5,573.7 324.1,573.7 339.3,573.4 347.6,573.0 353.0,572.1 357.0,570.7 360.4,568.7 364.2,565.4 371.7,557.4 373.8,555.9 375.7,555.4 377.6,555.8 379.7,557.2 381.6,559.1 388.0,566.1 390.1,568.0 392.3,569.6 394.7,570.9 397.1,571.9 400.0,572.6 403.2,573.1 413.6,573.8 434.5,574.3 539.8,575.0" fill="none" stroke="#2b8fd8" stroke-width="1.5"/>
<polyline points="299.5,573.9 539.8,575.0" fill="none" stroke="#2598e4" stroke-width="1.7"/>
<polyline points="299.5,573.7 322.0,573.7 327.8,573.5 330.0,573.1 331.8,572.3 333.2,571.4 334.5,569.9 335.9,567.7 336.9,565.2 339.1,558.0 341.5,546.0 345.5,521.0 347.1,512.3 348.7,506.3 349.5,504.7 350.3,504.0 350.8,504.2 351.6,505.2 352.4,507.2 353.2,510.0 354.8,517.7 358.3,537.8 359.9,545.9 361.8,553.1 362.8,555.9 363.9,557.9 364.7,558.9 365.5,559.5 366.3,559.8 367.1,559.8 368.7,559.2 372.5,556.5 374.1,555.7 375.9,555.4 377.6,555.8 378.9,556.6 380.5,558.0 386.9,565.0 389.8,567.8 393.1,570.1 396.3,571.6 399.7,572.6 404.3,573.2 410.7,573.7 420.6,574.0 456.7,574.5 539.8,575.0" fill="none" stroke="#141414" stroke-width="1.60" stroke-linejoin="round"/>
<polygon points="325.2,649.4 330.0,648.9 331.6,648.4 332.9,647.6 334.2,646.4 335.3,645.0 336.4,643.1 337.5,640.6 339.3,634.4 341.2,625.8 346.0,596.7 347.6,588.1 349.2,582.2 350.0,580.5 350.8,579.9 351.6,580.3 352.4,581.6 354.0,587.1 355.6,595.4 360.7,625.9 362.6,634.4 364.5,640.4 365.5,642.9 366.6,644.8 367.7,646.1 369.0,647.2 370.3,647.9 371.9,648.4 376.7,648.7 376.7,648.8 325.2,649.4" fill="#f03232" fill-opacity="0.62"/>
<polygon points="299.5,649.6 339.3,648.7 347.9,648.1 353.5,647.3 357.5,646.2 361.2,644.4 365.0,641.7 372.7,634.9 374.9,633.6 376.7,633.2 378.6,633.5 380.8,634.7 389.0,641.7 391.5,643.4 393.6,644.6 396.0,645.7 398.7,646.5 401.6,647.0 404.8,647.4 415.5,647.8 436.4,647.8 539.8,646.8 539.8,646.8 299.5,649.7" fill="#1aa0f0" fill-opacity="0.60"/>
<polyline points="299.5,649.7 323.3,649.4 328.4,649.2 330.5,648.7 332.4,648.0 333.7,647.0 335.1,645.4 336.4,643.1 337.5,640.6 339.6,633.4 342.0,621.4 346.0,596.7 347.6,588.1 349.2,582.2 350.0,580.5 350.8,579.9 351.6,580.3 352.4,581.6 353.2,583.9 354.3,588.3 355.9,596.9 360.2,623.1 361.8,631.1 363.1,636.4 364.7,641.1 366.3,644.3 368.2,646.6 369.3,647.4 370.6,648.0 373.8,648.6 379.2,648.7 539.8,646.8" fill="none" stroke="#e01c28" stroke-width="1.7"/>
<polyline points="299.5,649.6 339.3,648.7 347.9,648.1 353.5,647.3 357.5,646.2 361.2,644.4 365.0,641.7 372.7,634.9 374.9,633.6 376.7,633.2 378.6,633.5 380.8,634.7 389.0,641.7 391.5,643.4 393.6,644.6 396.0,645.7 398.7,646.5 401.6,647.0 404.8,647.4 415.5,647.8 436.4,647.8 539.8,646.8" fill="none" stroke="#2b8fd8" stroke-width="1.5"/>
<polyline points="299.5,649.7 539.8,646.8" fill="none" stroke="#2598e4" stroke-width="1.7"/>
<polyline points="299.5,649.6 322.2,649.1 328.1,648.8 330.2,648.4 332.1,647.7 333.4,646.8 334.8,645.3 336.1,643.2 337.2,640.8 338.5,636.8 339.6,632.8 342.0,620.8 346.0,595.9 347.6,587.2 348.7,582.7 349.5,580.4 350.3,579.0 351.1,578.6 351.9,579.2 352.7,580.7 354.3,586.4 355.9,594.6 359.6,616.3 362.0,627.1 363.1,630.6 364.5,633.6 365.8,635.5 367.1,636.4 368.2,636.6 369.5,636.3 373.8,634.0 375.4,633.4 377.0,633.2 378.4,633.4 379.7,634.0 381.3,635.0 389.0,641.7 391.5,643.4 393.6,644.6 396.3,645.8 399.2,646.6 402.4,647.1 406.4,647.5 417.9,647.8 439.0,647.8 539.8,646.8" fill="none" stroke="#141414" stroke-width="1.60" stroke-linejoin="round"/>
<line x1="82.60" y1="310.50" x2="82.60" y2="449.50" stroke="#3a3a3a" stroke-width="1.5" stroke-dasharray="5.6,4.2"/>
<line x1="93.09" y1="310.50" x2="93.09" y2="449.50" stroke="#3a3a3a" stroke-width="1.5" stroke-dasharray="5.6,4.2"/>
<line x1="110.57" y1="310.50" x2="110.57" y2="449.50" stroke="#3a3a3a" stroke-width="1.5" stroke-dasharray="5.6,4.2"/>
<line x1="152.97" y1="305.00" x2="152.97" y2="449.50" stroke="#3a3a3a" stroke-width="1.5" stroke-dasharray="5.6,4.2"/>
<line x1="163.90" y1="304.00" x2="163.90" y2="449.50" stroke="#3a3a3a" stroke-width="1.5" stroke-dasharray="5.6,4.2"/>
<line x1="172.64" y1="304.00" x2="172.64" y2="449.50" stroke="#3a3a3a" stroke-width="1.5" stroke-dasharray="5.6,4.2"/>
<line x1="192.31" y1="302.00" x2="192.31" y2="449.50" stroke="#3a3a3a" stroke-width="1.5" stroke-dasharray="5.6,4.2"/>
<line x1="233.83" y1="298.00" x2="233.83" y2="449.50" stroke="#3a3a3a" stroke-width="1.5" stroke-dasharray="5.6,4.2"/>
<line x1="347.91" y1="284.00" x2="347.91" y2="443.00" stroke="#3a3a3a" stroke-width="1.5" stroke-dasharray="5.6,4.2"/>
<line x1="356.75" y1="284.00" x2="356.75" y2="443.00" stroke="#3a3a3a" stroke-width="1.5" stroke-dasharray="5.6,4.2"/>
<line x1="373.61" y1="284.00" x2="373.61" y2="443.00" stroke="#3a3a3a" stroke-width="1.5" stroke-dasharray="5.6,4.2"/>
<line x1="413.18" y1="284.00" x2="413.18" y2="443.00" stroke="#3a3a3a" stroke-width="1.5" stroke-dasharray="5.6,4.2"/>
<line x1="422.22" y1="284.00" x2="422.22" y2="443.00" stroke="#3a3a3a" stroke-width="1.5" stroke-dasharray="5.6,4.2"/>
<line x1="431.45" y1="284.00" x2="431.45" y2="443.00" stroke="#3a3a3a" stroke-width="1.5" stroke-dasharray="5.6,4.2"/>
<line x1="448.33" y1="284.00" x2="448.33" y2="443.00" stroke="#3a3a3a" stroke-width="1.5" stroke-dasharray="5.6,4.2"/>
<line x1="486.48" y1="281.50" x2="486.48" y2="443.00" stroke="#3a3a3a" stroke-width="1.5" stroke-dasharray="5.6,4.2"/>
<line x1="80.20" y1="533.00" x2="80.20" y2="679.00" stroke="#3a3a3a" stroke-width="1.5" stroke-dasharray="5.6,4.2"/>
<line x1="105.20" y1="534.00" x2="105.20" y2="679.00" stroke="#3a3a3a" stroke-width="1.5" stroke-dasharray="5.6,4.2"/>
<line x1="28.70" y1="205.60" x2="28.70" y2="201.80" stroke="#111" stroke-width="1.3"/>
<text x="28.70" y="217.90" font-size="10.0" text-anchor="middle">925</text>
<line x1="58.69" y1="205.60" x2="58.69" y2="201.80" stroke="#111" stroke-width="1.3"/>
<text x="58.69" y="217.90" font-size="10.0" text-anchor="middle">930</text>
<line x1="88.68" y1="205.60" x2="88.68" y2="201.80" stroke="#111" stroke-width="1.3"/>
<text x="88.68" y="217.90" font-size="10.0" text-anchor="middle">935</text>
<line x1="118.66" y1="205.60" x2="118.66" y2="201.80" stroke="#111" stroke-width="1.3"/>
<text x="118.66" y="217.90" font-size="10.0" text-anchor="middle">940</text>
<line x1="148.65" y1="205.60" x2="148.65" y2="201.80" stroke="#111" stroke-width="1.3"/>
<text x="148.65" y="217.90" font-size="10.0" text-anchor="middle">945</text>
<line x1="178.64" y1="205.60" x2="178.64" y2="201.80" stroke="#111" stroke-width="1.3"/>
<text x="178.64" y="217.90" font-size="10.0" text-anchor="middle">950</text>
<line x1="208.62" y1="205.60" x2="208.62" y2="201.80" stroke="#111" stroke-width="1.3"/>
<text x="208.62" y="217.90" font-size="10.0" text-anchor="middle">955</text>
<line x1="238.61" y1="205.60" x2="238.61" y2="201.80" stroke="#111" stroke-width="1.3"/>
<text x="238.61" y="217.90" font-size="10.0" text-anchor="middle">960</text>
<line x1="268.60" y1="205.60" x2="268.60" y2="201.80" stroke="#111" stroke-width="1.3"/>
<text x="268.60" y="217.90" font-size="10.0" text-anchor="middle">965</text>
<line x1="43.69" y1="205.60" x2="43.69" y2="203.40" stroke="#111" stroke-width="1.3"/>
<line x1="73.68" y1="205.60" x2="73.68" y2="203.40" stroke="#111" stroke-width="1.3"/>
<line x1="103.67" y1="205.60" x2="103.67" y2="203.40" stroke="#111" stroke-width="1.3"/>
<line x1="133.66" y1="205.60" x2="133.66" y2="203.40" stroke="#111" stroke-width="1.3"/>
<line x1="163.64" y1="205.60" x2="163.64" y2="203.40" stroke="#111" stroke-width="1.3"/>
<line x1="193.63" y1="205.60" x2="193.63" y2="203.40" stroke="#111" stroke-width="1.3"/>
<line x1="223.62" y1="205.60" x2="223.62" y2="203.40" stroke="#111" stroke-width="1.3"/>
<line x1="253.61" y1="205.60" x2="253.61" y2="203.40" stroke="#111" stroke-width="1.3"/>
<rect x="28.70" y="12.50" width="239.90" height="193.10" fill="none" stroke="#111" stroke-width="1.6"/>
<line x1="300.00" y1="206.20" x2="300.00" y2="202.40" stroke="#111" stroke-width="1.3"/>
<text x="300.00" y="218.50" font-size="10.0" text-anchor="middle">925</text>
<line x1="330.05" y1="206.20" x2="330.05" y2="202.40" stroke="#111" stroke-width="1.3"/>
<text x="330.05" y="218.50" font-size="10.0" text-anchor="middle">930</text>
<line x1="360.10" y1="206.20" x2="360.10" y2="202.40" stroke="#111" stroke-width="1.3"/>
<text x="360.10" y="218.50" font-size="10.0" text-anchor="middle">935</text>
<line x1="390.15" y1="206.20" x2="390.15" y2="202.40" stroke="#111" stroke-width="1.3"/>
<text x="390.15" y="218.50" font-size="10.0" text-anchor="middle">940</text>
<line x1="420.20" y1="206.20" x2="420.20" y2="202.40" stroke="#111" stroke-width="1.3"/>
<text x="420.20" y="218.50" font-size="10.0" text-anchor="middle">945</text>
<line x1="450.25" y1="206.20" x2="450.25" y2="202.40" stroke="#111" stroke-width="1.3"/>
<text x="450.25" y="218.50" font-size="10.0" text-anchor="middle">950</text>
<line x1="480.30" y1="206.20" x2="480.30" y2="202.40" stroke="#111" stroke-width="1.3"/>
<text x="480.30" y="218.50" font-size="10.0" text-anchor="middle">955</text>
<line x1="510.35" y1="206.20" x2="510.35" y2="202.40" stroke="#111" stroke-width="1.3"/>
<text x="510.35" y="218.50" font-size="10.0" text-anchor="middle">960</text>
<line x1="540.40" y1="206.20" x2="540.40" y2="202.40" stroke="#111" stroke-width="1.3"/>
<text x="540.40" y="218.50" font-size="10.0" text-anchor="middle">965</text>
<line x1="315.02" y1="206.20" x2="315.02" y2="204.00" stroke="#111" stroke-width="1.3"/>
<line x1="345.07" y1="206.20" x2="345.07" y2="204.00" stroke="#111" stroke-width="1.3"/>
<line x1="375.12" y1="206.20" x2="375.12" y2="204.00" stroke="#111" stroke-width="1.3"/>
<line x1="405.18" y1="206.20" x2="405.18" y2="204.00" stroke="#111" stroke-width="1.3"/>
<line x1="435.22" y1="206.20" x2="435.22" y2="204.00" stroke="#111" stroke-width="1.3"/>
<line x1="465.27" y1="206.20" x2="465.27" y2="204.00" stroke="#111" stroke-width="1.3"/>
<line x1="495.32" y1="206.20" x2="495.32" y2="204.00" stroke="#111" stroke-width="1.3"/>
<line x1="525.38" y1="206.20" x2="525.38" y2="204.00" stroke="#111" stroke-width="1.3"/>
<rect x="300.00" y="12.50" width="240.40" height="193.70" fill="none" stroke="#111" stroke-width="1.6"/>
<line x1="28.40" y1="451.20" x2="28.40" y2="447.40" stroke="#111" stroke-width="1.3"/>
<text x="28.40" y="463.50" font-size="10.0" text-anchor="middle">870</text>
<line x1="72.11" y1="451.20" x2="72.11" y2="447.40" stroke="#111" stroke-width="1.3"/>
<text x="72.11" y="463.50" font-size="10.0" text-anchor="middle">880</text>
<line x1="115.82" y1="451.20" x2="115.82" y2="447.40" stroke="#111" stroke-width="1.3"/>
<text x="115.82" y="463.50" font-size="10.0" text-anchor="middle">890</text>
<line x1="159.53" y1="451.20" x2="159.53" y2="447.40" stroke="#111" stroke-width="1.3"/>
<text x="159.53" y="463.50" font-size="10.0" text-anchor="middle">900</text>
<line x1="203.24" y1="451.20" x2="203.24" y2="447.40" stroke="#111" stroke-width="1.3"/>
<text x="203.24" y="463.50" font-size="10.0" text-anchor="middle">910</text>
<line x1="246.95" y1="451.20" x2="246.95" y2="447.40" stroke="#111" stroke-width="1.3"/>
<text x="246.95" y="463.50" font-size="10.0" text-anchor="middle">920</text>
<line x1="50.25" y1="451.20" x2="50.25" y2="449.00" stroke="#111" stroke-width="1.3"/>
<line x1="93.96" y1="451.20" x2="93.96" y2="449.00" stroke="#111" stroke-width="1.3"/>
<line x1="137.67" y1="451.20" x2="137.67" y2="449.00" stroke="#111" stroke-width="1.3"/>
<line x1="181.38" y1="451.20" x2="181.38" y2="449.00" stroke="#111" stroke-width="1.3"/>
<line x1="225.09" y1="451.20" x2="225.09" y2="449.00" stroke="#111" stroke-width="1.3"/>
<line x1="268.80" y1="451.20" x2="268.80" y2="449.00" stroke="#111" stroke-width="1.3"/>
<rect x="28.40" y="257.20" width="240.40" height="194.00" fill="none" stroke="#111" stroke-width="1.6"/>
<line x1="297.70" y1="451.20" x2="297.70" y2="447.40" stroke="#111" stroke-width="1.3"/>
<text x="297.70" y="463.50" font-size="10.0" text-anchor="middle">870</text>
<line x1="337.87" y1="451.20" x2="337.87" y2="447.40" stroke="#111" stroke-width="1.3"/>
<text x="337.87" y="463.50" font-size="10.0" text-anchor="middle">880</text>
<line x1="378.03" y1="451.20" x2="378.03" y2="447.40" stroke="#111" stroke-width="1.3"/>
<text x="378.03" y="463.50" font-size="10.0" text-anchor="middle">890</text>
<line x1="418.20" y1="451.20" x2="418.20" y2="447.40" stroke="#111" stroke-width="1.3"/>
<text x="418.20" y="463.50" font-size="10.0" text-anchor="middle">900</text>
<line x1="458.37" y1="451.20" x2="458.37" y2="447.40" stroke="#111" stroke-width="1.3"/>
<text x="458.37" y="463.50" font-size="10.0" text-anchor="middle">910</text>
<line x1="498.53" y1="451.20" x2="498.53" y2="447.40" stroke="#111" stroke-width="1.3"/>
<text x="498.53" y="463.50" font-size="10.0" text-anchor="middle">920</text>
<line x1="538.70" y1="451.20" x2="538.70" y2="447.40" stroke="#111" stroke-width="1.3"/>
<text x="538.70" y="463.50" font-size="10.0" text-anchor="middle">930</text>
<line x1="317.78" y1="451.20" x2="317.78" y2="449.00" stroke="#111" stroke-width="1.3"/>
<line x1="357.95" y1="451.20" x2="357.95" y2="449.00" stroke="#111" stroke-width="1.3"/>
<line x1="398.12" y1="451.20" x2="398.12" y2="449.00" stroke="#111" stroke-width="1.3"/>
<line x1="438.28" y1="451.20" x2="438.28" y2="449.00" stroke="#111" stroke-width="1.3"/>
<line x1="478.45" y1="451.20" x2="478.45" y2="449.00" stroke="#111" stroke-width="1.3"/>
<line x1="518.62" y1="451.20" x2="518.62" y2="449.00" stroke="#111" stroke-width="1.3"/>
<rect x="297.70" y="257.00" width="241.00" height="194.20" fill="none" stroke="#111" stroke-width="1.6"/>
<line x1="28.50" y1="681.30" x2="28.50" y2="677.50" stroke="#111" stroke-width="1.3"/>
<text x="28.50" y="693.60" font-size="10.0" text-anchor="middle">525</text>
<line x1="91.79" y1="681.30" x2="91.79" y2="677.50" stroke="#111" stroke-width="1.3"/>
<text x="91.79" y="693.60" font-size="10.0" text-anchor="middle">530</text>
<line x1="155.09" y1="681.30" x2="155.09" y2="677.50" stroke="#111" stroke-width="1.3"/>
<text x="155.09" y="693.60" font-size="10.0" text-anchor="middle">535</text>
<line x1="218.38" y1="681.30" x2="218.38" y2="677.50" stroke="#111" stroke-width="1.3"/>
<text x="218.38" y="693.60" font-size="10.0" text-anchor="middle">540</text>
<line x1="60.15" y1="681.30" x2="60.15" y2="679.10" stroke="#111" stroke-width="1.3"/>
<line x1="123.44" y1="681.30" x2="123.44" y2="679.10" stroke="#111" stroke-width="1.3"/>
<line x1="186.73" y1="681.30" x2="186.73" y2="679.10" stroke="#111" stroke-width="1.3"/>
<line x1="250.03" y1="681.30" x2="250.03" y2="679.10" stroke="#111" stroke-width="1.3"/>
<rect x="28.50" y="487.80" width="241.40" height="193.50" fill="none" stroke="#111" stroke-width="1.6"/>
<line x1="299.50" y1="681.60" x2="299.50" y2="677.80" stroke="#111" stroke-width="1.3"/>
<text x="299.50" y="693.90" font-size="10.0" text-anchor="middle">525</text>
<line x1="362.74" y1="681.60" x2="362.74" y2="677.80" stroke="#111" stroke-width="1.3"/>
<text x="362.74" y="693.90" font-size="10.0" text-anchor="middle">530</text>
<line x1="425.97" y1="681.60" x2="425.97" y2="677.80" stroke="#111" stroke-width="1.3"/>
<text x="425.97" y="693.90" font-size="10.0" text-anchor="middle">535</text>
<line x1="489.21" y1="681.60" x2="489.21" y2="677.80" stroke="#111" stroke-width="1.3"/>
<text x="489.21" y="693.90" font-size="10.0" text-anchor="middle">540</text>
<line x1="331.12" y1="681.60" x2="331.12" y2="679.40" stroke="#111" stroke-width="1.3"/>
<line x1="394.36" y1="681.60" x2="394.36" y2="679.40" stroke="#111" stroke-width="1.3"/>
<line x1="457.59" y1="681.60" x2="457.59" y2="679.40" stroke="#111" stroke-width="1.3"/>
<line x1="520.83" y1="681.60" x2="520.83" y2="679.40" stroke="#111" stroke-width="1.3"/>
<rect x="299.50" y="488.00" width="240.30" height="193.60" fill="none" stroke="#111" stroke-width="1.6"/>
<text transform="translate(5.30,23.90) scale(1.08,0.93)" font-size="16.3">(a)</text>
<text transform="translate(277.20,23.90) scale(1.08,0.93)" font-size="16.3">(b)</text>
<text transform="translate(5.30,269.80) scale(1.08,0.93)" font-size="16.3">(c)</text>
<text transform="translate(276.80,270.90) scale(1.08,0.93)" font-size="16.3">(d)</text>
<text transform="translate(7.40,494.00) scale(1.08,0.93)" font-size="16.3">(e)</text>
<text transform="translate(277.60,499.00) scale(1.08,0.93)" font-size="16.3">(f)</text>
<text transform="translate(149.60,230.60) scale(0.99,1.06)" font-size="12.9" text-anchor="middle">Binding Energy (eV)</text>
<text transform="translate(420.60,230.60) scale(0.99,1.06)" font-size="12.9" text-anchor="middle">Binding Energy (eV)</text>
<text transform="translate(149.60,476.80) scale(0.99,1.06)" font-size="12.9" text-anchor="middle">Binding Energy (eV)</text>
<text transform="translate(419.00,476.80) scale(0.99,1.06)" font-size="12.9" text-anchor="middle">Binding Energy (eV)</text>
<text transform="translate(149.60,707.80) scale(0.99,1.06)" font-size="12.9" text-anchor="middle">Binding Energy (eV)</text>
<text transform="translate(419.80,707.80) scale(0.99,1.06)" font-size="12.9" text-anchor="middle">Binding Energy (eV)</text>
<text x="0.00" y="0.00" font-size="13.10" text-anchor="middle" transform="translate(19.20,106.00) rotate(-90)">Intensity (a.u.)</text>
<text x="0.00" y="0.00" font-size="13.10" text-anchor="middle" transform="translate(291.40,106.00) rotate(-90)">Intensity (a.u.)</text>
<text x="0.00" y="0.00" font-size="13.10" text-anchor="middle" transform="translate(21.40,350.00) rotate(-90)">Intensity (a.u.)</text>
<text x="0.00" y="0.00" font-size="13.10" text-anchor="middle" transform="translate(291.40,350.00) rotate(-90)">Intensity (a.u.)</text>
<text x="0.00" y="0.00" font-size="13.80" text-anchor="middle" transform="translate(21.30,578.60) rotate(-90)">Intensity (a.u.)</text>
<text x="0.00" y="0.00" font-size="13.80" text-anchor="middle" transform="translate(291.30,578.60) rotate(-90)">Intensity (a.u.)</text>
<text x="31.60" y="23.80" font-size="10.90" text-anchor="start" >Cu 2p</text>
<text transform="translate(60.50,24.60) scale(1,0.970)" font-size="7.40" text-anchor="start" letter-spacing="0.30" style="stroke-width:0.12px">Cu2p<tspan font-size="8.60" dy="2.40">3/2</tspan></text>
<text transform="translate(113.00,48.00) scale(1,1.000)" font-size="7.70" text-anchor="start" letter-spacing="0.26" style="stroke-width:0.12px">satellite peak</text>
<text transform="translate(183.80,35.90) scale(1,0.970)" font-size="7.40" text-anchor="start" letter-spacing="0.30" style="stroke-width:0.12px">Cu2p<tspan font-size="8.60" dy="2.50">1/2</tspan></text>
<text transform="translate(219.80,45.70) scale(1,1.000)" font-size="7.70" text-anchor="start" letter-spacing="0.26" style="stroke-width:0.12px">satellite peak</text>
<text x="267.00" y="68.00" font-size="8.35" text-anchor="end" >10CuO/NS-CeO<tspan font-size="7.51" dy="2">2</tspan><tspan dy="-2">-500</tspan></text>
<text x="267.00" y="123.60" font-size="8.35" text-anchor="end" >10CuO/NS-CeO<tspan font-size="7.51" dy="2">2</tspan><tspan dy="-2">-400</tspan></text>
<text x="267.00" y="182.50" font-size="8.35" text-anchor="end" >10CuO/NS-CeO<tspan font-size="7.51" dy="2">2</tspan><tspan dy="-2">-300</tspan></text>
<text x="302.20" y="24.20" font-size="10.90" text-anchor="start" >Cu 2p</text>
<text transform="translate(334.40,28.80) scale(1,0.970)" font-size="7.40" text-anchor="start" letter-spacing="0.30" style="stroke-width:0.12px">Cu2p<tspan font-size="8.60" dy="2.40">3/2</tspan></text>
<text transform="translate(384.50,56.70) scale(1,1.000)" font-size="7.70" text-anchor="start" letter-spacing="0.26" style="stroke-width:0.12px">satellite peak</text>
<text transform="translate(458.20,42.80) scale(1,0.970)" font-size="7.40" text-anchor="start" letter-spacing="0.30" style="stroke-width:0.12px">Cu2p<tspan font-size="8.60" dy="2.50">1/2</tspan></text>
<text transform="translate(492.50,53.00) scale(1,1.000)" font-size="7.70" text-anchor="start" letter-spacing="0.26" style="stroke-width:0.12px">satellite peak</text>
<text x="538.80" y="79.50" font-size="8.35" text-anchor="end" >10CuO/NS-CeO<tspan font-size="7.51" dy="2">2</tspan><tspan dy="-2">-500</tspan></text>
<text x="538.00" y="134.50" font-size="8.35" text-anchor="end" >10CuO/C-CeO<tspan font-size="7.51" dy="2">2</tspan><tspan dy="-2">-500</tspan></text>
<text x="538.00" y="175.50" font-size="8.35" text-anchor="end" >10CuO/C-Al<tspan font-size="7.51" dy="2">2</tspan><tspan dy="-2">O<tspan font-size="7.51" dy="2">3</tspan><tspan dy="-2">-500</tspan></tspan></text>
<text x="537.00" y="194.50" font-size="8.35" text-anchor="end" >10CuO/C-SiO<tspan font-size="7.51" dy="2">2</tspan><tspan dy="-2">-500</tspan></text>
<text x="35.40" y="272.80" font-size="11.90" text-anchor="start" >Ce 3d</text>
<text transform="translate(31.00,292.70) scale(1,0.970)" font-size="8.20" text-anchor="start" letter-spacing="0.00" style="stroke-width:0.12px">Ce 3d<tspan font-size="8.00" dy="2.80">5/2</tspan></text>
<line x1="59.50" y1="291.60" x2="75.28" y2="299.83" stroke="#111" stroke-width="1.1"/>
<polygon points="80.60,302.60 74.36,301.60 76.20,298.05" fill="#111"/>
<text transform="translate(137.50,277.00) scale(1,0.970)" font-size="8.20" text-anchor="start" letter-spacing="0.00" style="stroke-width:0.12px">Ce 3d<tspan font-size="8.00" dy="2.80">3/2</tspan></text>
<line x1="159.00" y1="282.20" x2="162.32" y2="288.83" stroke="#111" stroke-width="1.1"/>
<polygon points="165.00,294.20 160.53,289.73 164.11,287.94" fill="#111"/>
<text transform="translate(82.20,308.40) scale(1,1.000)" font-size="7.60" text-anchor="middle" letter-spacing="0.00" style="stroke-width:0.12px">v</text>
<text transform="translate(94.20,308.40) scale(1,1.000)" font-size="7.60" text-anchor="middle" letter-spacing="0.00" style="stroke-width:0.12px">v'</text>
<text transform="translate(111.70,308.40) scale(1,1.000)" font-size="7.60" text-anchor="middle" letter-spacing="0.00" style="stroke-width:0.12px">v''</text>
<text transform="translate(153.50,302.00) scale(1,1.000)" font-size="7.60" text-anchor="middle" letter-spacing="0.00" style="stroke-width:0.12px">v'''</text>
<text transform="translate(165.00,300.00) scale(1,1.000)" font-size="7.60" text-anchor="middle" letter-spacing="0.00" style="stroke-width:0.12px">u</text>
<text transform="translate(173.00,301.00) scale(1,1.000)" font-size="7.60" text-anchor="middle" letter-spacing="0.00" style="stroke-width:0.12px">u'</text>
<text transform="translate(193.00,296.00) scale(1,1.000)" font-size="7.60" text-anchor="middle" letter-spacing="0.00" style="stroke-width:0.12px">u''</text>
<text transform="translate(235.00,295.00) scale(1,1.000)" font-size="7.60" text-anchor="middle" letter-spacing="0.00" style="stroke-width:0.12px">u'''</text>
<text x="267.00" y="353.40" font-size="8.35" text-anchor="end" >10CuO/NS-CeO<tspan font-size="7.51" dy="2">2</tspan><tspan dy="-2">-500</tspan></text>
<text x="267.00" y="395.00" font-size="8.35" text-anchor="end" >10CuO/NS-CeO<tspan font-size="7.51" dy="2">2</tspan><tspan dy="-2">-400</tspan></text>
<text x="267.00" y="435.10" font-size="8.35" text-anchor="end" >10CuO/NS-CeO<tspan font-size="7.51" dy="2">2</tspan><tspan dy="-2">-300</tspan></text>
<text x="299.40" y="271.90" font-size="11.90" text-anchor="start" >Ce 3d</text>
<text transform="translate(336.00,265.60) scale(1,0.970)" font-size="8.20" text-anchor="start" letter-spacing="0.00" style="stroke-width:0.12px">Ce 3d<tspan font-size="8.00" dy="2.80">5/2</tspan></text>
<line x1="351.20" y1="268.50" x2="350.21" y2="270.86" stroke="#111" stroke-width="1.1"/>
<polygon points="347.90,276.40 348.37,270.09 352.06,271.63" fill="#111"/>
<text transform="translate(441.00,263.60) scale(1,0.970)" font-size="8.20" text-anchor="start" letter-spacing="0.00" style="stroke-width:0.12px">Ce 3d<tspan font-size="8.00" dy="2.80">3/2</tspan></text>
<line x1="438.80" y1="265.80" x2="427.05" y2="273.36" stroke="#111" stroke-width="1.1"/>
<polygon points="422.00,276.60 425.97,271.67 428.13,275.04" fill="#111"/>
<text transform="translate(347.40,282.00) scale(1,1.000)" font-size="7.60" text-anchor="middle" letter-spacing="0.00" style="stroke-width:0.12px">v</text>
<text transform="translate(356.80,282.00) scale(1,1.000)" font-size="7.60" text-anchor="middle" letter-spacing="0.00" style="stroke-width:0.12px">v'</text>
<text transform="translate(374.00,282.00) scale(1,1.000)" font-size="7.60" text-anchor="middle" letter-spacing="0.00" style="stroke-width:0.12px">v''</text>
<text transform="translate(412.70,282.00) scale(1,1.000)" font-size="7.60" text-anchor="middle" letter-spacing="0.00" style="stroke-width:0.12px">v'''</text>
<text transform="translate(421.50,282.00) scale(1,1.000)" font-size="7.60" text-anchor="middle" letter-spacing="0.00" style="stroke-width:0.12px">u</text>
<text transform="translate(432.00,282.00) scale(1,1.000)" font-size="7.60" text-anchor="middle" letter-spacing="0.00" style="stroke-width:0.12px">u'</text>
<text transform="translate(448.00,282.00) scale(1,1.000)" font-size="7.60" text-anchor="middle" letter-spacing="0.00" style="stroke-width:0.12px">u''</text>
<text transform="translate(485.40,279.00) scale(1,1.000)" font-size="7.60" text-anchor="middle" letter-spacing="0.00" style="stroke-width:0.12px">u'''</text>
<text x="537.80" y="344.90" font-size="8.35" text-anchor="end" >10CuO/NS-CeO<tspan font-size="7.51" dy="2">2</tspan><tspan dy="-2">-500</tspan></text>
<text x="537.80" y="412.80" font-size="8.35" text-anchor="end" >10CuO/C-CeO<tspan font-size="7.51" dy="2">2</tspan><tspan dy="-2">-500</tspan></text>
<text x="30.00" y="500.20" font-size="11.80" text-anchor="start" >O 1s</text>
<text transform="translate(30.00,511.20) scale(1,1.000)" font-size="7.70" text-anchor="start" letter-spacing="0.28" style="stroke-width:0.12px">lattice oxygen</text>
<line x1="59.10" y1="515.20" x2="75.86" y2="527.46" stroke="#111" stroke-width="1.1"/>
<polygon points="80.70,531.00 74.68,529.07 77.04,525.84" fill="#111"/>
<text transform="translate(125.00,517.70) scale(1,1.000)" font-size="7.75" text-anchor="start" letter-spacing="0.26" style="stroke-width:0.12px">surface adsorbed oxygen</text>
<line x1="132.70" y1="522.00" x2="115.90" y2="533.84" stroke="#111" stroke-width="1.1"/>
<polygon points="111.00,537.30 114.75,532.21 117.06,535.48" fill="#111"/>
<text x="267.60" y="579.00" font-size="8.35" text-anchor="end" >10CuO/NS-CeO<tspan font-size="7.51" dy="2">2</tspan><tspan dy="-2">-500</tspan></text>
<text x="267.60" y="628.10" font-size="8.35" text-anchor="end" >10CuO/NS-CeO<tspan font-size="7.51" dy="2">2</tspan><tspan dy="-2">-400</tspan></text>
<text x="267.60" y="667.40" font-size="8.35" text-anchor="end" >10CuO/NS-CeO<tspan font-size="7.51" dy="2">2</tspan><tspan dy="-2">-300</tspan></text>
<text x="302.20" y="502.60" font-size="11.80" text-anchor="start" >O 1s</text>
<text transform="translate(354.30,508.60) scale(1,1.000)" font-size="7.70" text-anchor="start" letter-spacing="0.26" style="stroke-width:0.12px">lattice oxygen</text>
<line x1="370.90" y1="512.10" x2="362.32" y2="526.82" stroke="#111" stroke-width="1.1"/>
<polygon points="359.30,532.00 360.59,525.81 364.05,527.82" fill="#111"/>
<text transform="translate(384.40,527.00) scale(1,1.000)" font-size="7.75" text-anchor="start" letter-spacing="0.26" style="stroke-width:0.12px">surface adsorbed oxygen</text>
<line x1="398.60" y1="531.20" x2="385.26" y2="547.82" stroke="#111" stroke-width="1.1"/>
<polygon points="381.50,552.50 383.70,546.57 386.82,549.07" fill="#111"/>
<text x="536.80" y="564.80" font-size="8.35" text-anchor="end" >10CuO/NS-CeO<tspan font-size="7.51" dy="2">2</tspan><tspan dy="-2">-500</tspan></text>
<text x="536.00" y="638.50" font-size="8.35" text-anchor="end" >10CuO/C-CeO<tspan font-size="7.51" dy="2">2</tspan><tspan dy="-2">-500</tspan></text>
</svg>
</body></html>
